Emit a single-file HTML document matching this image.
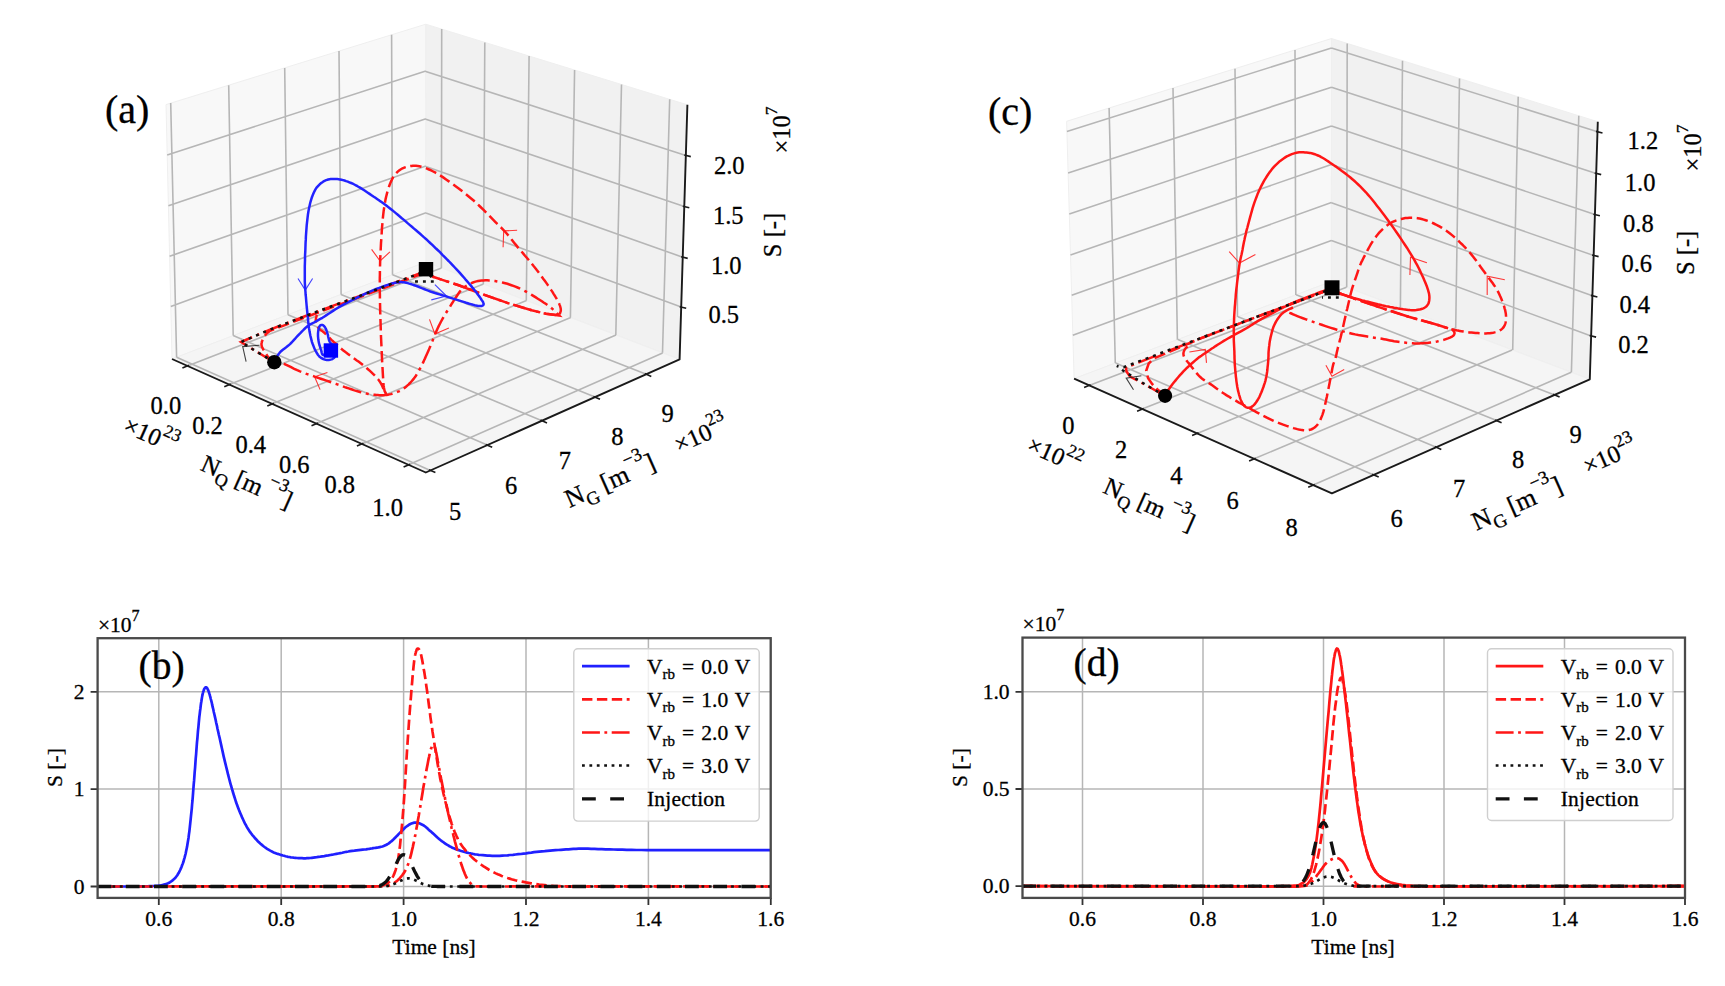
<!DOCTYPE html>
<html><head><meta charset="utf-8"><title>figure</title>
<style>html,body{margin:0;padding:0;background:#fff}svg{display:block}text{font-family:"Liberation Serif", "DejaVu Serif", serif;stroke:#000;stroke-width:0.3px}</style>
</head><body>
<svg width="1725" height="986" viewBox="0 0 1725 986">
<rect width="1725" height="986" fill="#fff"/>
<polygon points="172,359 426,262 425.8,24.2 166,104.6" fill="#f8f8f8" stroke="#efefef" stroke-width="1"/>
<polygon points="426,262 679.6,359.4 687.4,104.8 425.8,24.2" fill="#f1f1f1" stroke="#efefef" stroke-width="1"/>
<polygon points="172,359 425.8,472.5 679.6,359.4 426,262" fill="#f5f5f5" stroke="#efefef" stroke-width="1"/>
<path d="M187.4 365.9L441.5 267.9M441.4 267.9L441.7 29.1M229.3 384.6L483.5 284.1M483.3 284L484.8 42.4M272.3 403.8L526.5 300.6M526.3 300.5L529.1 56M316.5 423.6L570.7 317.6M570.4 317.5L574.6 70.1M361.9 443.9L616 335M615.8 334.9L621.5 84.5M408.6 464.8L662.6 352.9M662.5 352.8L669.7 99.3M176.6 357.2L430.4 470.4M176.6 357.2L170.7 103.1M233.2 335.6L487.2 445.1M233.2 335.6L228.7 85.2M287.9 314.7L542 420.7M288 314.7L284.7 67.9M341 294.4L595 397.1M341.1 294.4L339 51.1M392.5 274.8L646.3 374.2M392.5 274.8L391.6 34.8M170.8 306.4L426 212.8M426 213.1L681.2 307.1M169.6 256.3L425.9 165.9M425.9 166.4L682.7 257.2M168.4 205.8L425.9 118.7M425.9 119.2L684.3 206.6M167.2 154.9L425.8 71.1M425.8 71.4L685.8 155.4" fill="none" stroke="#b6b6b6" stroke-width="1.6"/>
<path d="M274.3 362.2 L258 352.5 L241 342 L270 329.6 L306.9 315.5 L360 295.8 L419 273.7 L426 269.2" fill="none" stroke="#ff1616" stroke-width="2.5" stroke-dasharray="19.3 4.7 3 4.7"/>
<path d="M426 269.2 L433.1 276.8 L458.7 285.3 L483 294.4 L507.3 302.9 L531.7 310.3 L546 313.8 L559.2 315.5 L557.7 314 L556.2 312.6 L554.7 311.1 L553.2 309.7 L551.6 308.2 L549.9 306.8 L548 305.4 L546.1 304 L544 302.7 L541.9 301.3 L539.9 300 L537.8 298.7 L535.8 297.4 L533.7 296.1 L531.7 294.9 L529.7 293.7 L527.6 292.5 L525.6 291.4 L523.6 290.4 L521.5 289.4 L519.5 288.4 L517.5 287.5 L515.4 286.7 L513.4 285.9 L511.4 285.2 L509.4 284.5 L507.4 283.8 L505.3 283.2 L503.3 282.7 L501.3 282.2 L499.3 281.8 L497.2 281.4 L495.1 281 L493.1 280.8 L491.1 280.5 L489.1 280.4 L487.2 280.3 L485.3 280.3 L483.4 280.4 L481.6 280.5 L479.8 280.7 L478.1 281 L476.4 281.4 L474.7 281.9 L473 282.5 L471.4 283.2 L469.9 283.9 L468.4 284.7 L467 285.5 L465.7 286.3 L464.5 287.1 L463.4 288.1 L462.2 289.1 L461.1 290.2 L460 291.4 L459 292.8 L458 294.2 L457 295.7 L456 297.2 L455 298.7 L454 300.2 L453 301.8 L451.9 303.5 L450.9 305.1 L449.9 306.8 L448.9 308.4 L447.9 310 L446.9 311.5 L445.9 313.1 L444.9 314.7 L443.9 316.3 L442.9 318.1 L441.9 320 L440.8 322 L439.8 324 L438.7 326.1 L437.7 328.2 L436.8 330.3 L435.9 332.3 L435.1 334.4 L434.3 336.4 L433.5 338.4 L432.7 340.4 L431.9 342.5 L431 344.6 L430.1 346.7 L429.2 348.9 L428.3 351 L427.4 353 L426.5 355 L425.7 356.8 L424.9 358.6 L424.1 360.2 L423.4 361.9 L422.6 363.6 L421.7 365.3 L420.8 367.1 L419.8 369 L418.7 370.9 L417.7 372.8 L416.6 374.6 L415.6 376.2 L414.6 377.6 L413.6 378.9 L412.6 380.1 L411.6 381.3 L410.6 382.4 L409.5 383.5 L408.4 384.6 L407.2 385.7 L406 386.8 L404.8 387.8 L403.5 388.7 L402.2 389.6 L400.9 390.4 L399.5 391.1 L398 391.7 L396.6 392.3 L395.1 392.8 L393.7 393.3 L392.3 393.7 L390.8 394.1 L389.4 394.4 L387.9 394.7 L386.5 394.9 L385.2 395.1 L383.9 395.2 L382.8 395.3 L381.6 395.3 L380.5 395.3 L379.2 395.2 L377.9 395.1 L376.4 395 L374.8 394.8 L373.1 394.6 L371.5 394.4 L369.8 394.2 L368.1 393.9 L366.5 393.6 L364.9 393.2 L363.2 392.8 L361.6 392.4 L360 392 L358.4 391.5 L356.8 391 L355.3 390.6 L353.7 390.1 L352.1 389.5 L350.5 389 L348.7 388.4 L346.8 387.8 L344.8 387.1 L342.8 386.3 L340.7 385.6 L338.6 384.8 L336.5 384.1 L334.5 383.4 L332.4 382.7 L330.3 382 L328.3 381.3 L326.3 380.6 L324.3 379.9 L322.4 379.3 L320.7 378.7 L318.9 378.1 L317.2 377.5 L315.3 376.9 L313.4 376.2 L311.4 375.5 L309.3 374.8 L307.2 374.1 L304.9 373.3 L302.6 372.4 L300 371.4 L297.2 370.2 L294.2 368.8 L291.1 367.2 L287.9 365.7 L284.6 364.1 L281.5 362.6 L274.3 362.2" fill="none" stroke="#ff1616" stroke-width="2.5" stroke-dasharray="19.3 4.7 3 4.7"/>
<path d="M426 269.2 L433.1 276.8 L458.7 285.3 L483 294.4 L507.3 302.9 L531.7 310.3 L546 313.8 L559.2 315.5 L559.5 314.5 L559.9 313.6 L560.2 312.6 L560.6 311.7 L560.8 310.7 L560.8 309.6 L560.7 308.5 L560.4 307.3 L560.1 306.1 L559.6 304.9 L559.1 303.6 L558.5 302.3 L557.9 301 L557.1 299.6 L556.4 298.3 L555.5 296.9 L554.6 295.4 L553.6 293.8 L552.6 292.1 L551.4 290.4 L550.2 288.6 L549 286.8 L547.7 284.9 L546.3 282.9 L544.8 280.8 L543.2 278.7 L541.6 276.4 L539.9 274.2 L538.3 271.9 L536.6 269.8 L535 267.7 L533.4 265.8 L531.8 263.8 L530.2 261.8 L528.5 259.8 L526.8 257.8 L525 255.7 L523.3 253.6 L521.4 251.4 L519.6 249.3 L517.7 247.1 L515.9 244.9 L514.1 242.7 L512.2 240.3 L510.3 238 L508.5 235.7 L506.7 233.5 L504.9 231.5 L503.3 229.8 L501.9 228.3 L500.5 227 L499 225.5 L497.3 223.9 L495.2 221.8 L492.6 219.2 L489.7 216.2 L486.6 213 L483.3 209.7 L480 206.5 L476.9 203.5 L473.9 200.8 L470.8 198.2 L467.8 195.7 L464.8 193.2 L461.7 190.8 L458.7 188.5 L455.6 186.2 L452.4 183.8 L449.2 181.6 L446.1 179.4 L443.2 177.4 L440.4 175.6 L437.9 174 L435.5 172.7 L433.2 171.5 L431.1 170.4 L429 169.5 L427 168.6 L425 167.8 L423.1 167.2 L421.2 166.7 L419.4 166.3 L417.7 166 L416 165.8 L414.4 165.7 L412.9 165.7 L411.5 165.9 L410.2 166.1 L408.8 166.4 L407.5 166.7 L406.2 167 L404.9 167.4 L403.7 167.9 L402.5 168.4 L401.3 169 L400.2 169.7 L399.1 170.5 L398 171.4 L397 172.4 L395.9 173.5 L395 174.6 L394.1 175.8 L393.3 177 L392.5 178.3 L391.9 179.7 L391.2 181.1 L390.5 182.6 L389.9 184.3 L389.2 186 L388.6 187.9 L388 189.8 L387.4 191.8 L386.8 194.1 L386.2 196.5 L385.6 199.1 L385.1 201.9 L384.6 204.9 L384.1 208 L383.6 211.3 L383.2 214.8 L382.8 218.5 L382.5 222.5 L382.1 226.6 L381.8 230.8 L381.6 235 L381.3 239.1 L381 243.2 L380.8 247.3 L380.6 251.4 L380.4 255.5 L380.2 259.5 L380.1 263.4 L380 267.2 L379.9 270.8 L379.9 274.4 L379.8 277.9 L379.8 281.4 L379.8 285 L379.8 288.4 L379.8 291.6 L379.9 294.8 L379.9 298.2 L380 302 L380.1 306.5 L380.2 311.7 L380.4 317.6 L380.6 323.8 L380.8 330.3 L381 336.7 L381.3 343 L381.6 349.4 L381.9 356.1 L382.2 362.9 L382.6 369.3 L382.9 374.9 L383.2 379.5 L383.4 382.8 L383.6 385.2 L383.8 386.8 L384 388 L384.2 389 L384.4 390 L384.6 391 L384.9 391.6 L385.1 392.1 L385.3 392.5 L385.6 392.8 L385.8 393.3 L385.2 393.3 L384.4 391.4 L383.7 389.5 L382.9 387.6 L382.1 385.8 L381.3 384 L380.3 382.3 L379.2 380.7 L378.1 379.3 L376.9 377.9 L375.7 376.5 L374.4 375.2 L373 373.8 L371.5 372.4 L369.9 370.9 L368.3 369.5 L366.6 368 L365 366.6 L363.3 365.3 L361.7 364 L360.1 362.8 L358.5 361.6 L356.8 360.4 L355.2 359.2 L353.5 358 L351.7 356.7 L349.8 355.3 L347.9 353.9 L346.1 352.6 L344.4 351.3 L343 350.2 L341.9 349.3 L341 348.6 L340.3 347.9 L339.7 347.3 L339 346.7 L338.1 345.9 L337.1 345 L336 344 L334.9 343 L333.7 342 L332.6 340.9 L331.4 339.8 L330.2 338.6 L328.9 337.3 L327.6 336 L326.4 334.7 L325.2 333.5 L324.1 332.5 L323.1 331.7 L322.2 331.1 L321.4 330.5 L320.6 330.1 L319.9 329.5 L319.2 328.9 L318.6 328.2 L318 327.4 L317.4 326.5 L316.9 325.7 L316.5 324.8 L316.2 324 L316 323.2 L315.9 322.3 L315.8 321.5 L315.8 320.7 L315.8 319.9 L315.9 319.1 L316 318.4 L316.1 317.6 L316.3 317 L316.5 316.3 L316.6 315.6 L316.8 314.9" fill="none" stroke="#ff1616" stroke-width="2.5" stroke-dasharray="11.4 4.6"/>
<path d="M274.3 362.2 L268 357 L263.5 350 L263.1 349.2 L262.7 348.3 L262.3 347.5 L261.9 346.7 L261.7 345.8 L261.5 345 L261.5 344.2 L261.5 343.4 L261.7 342.6 L261.9 341.7 L262.2 340.9 L262.5 340 L262.9 339.1 L263.5 338.1 L264.1 337.1 L264.7 336 L265.4 335 L266 334 L270 330.8 L306.9 316.7 L360 297 L419 274.9 L426 269.2" fill="none" stroke="#ff1616" stroke-width="2.5" stroke-dasharray="11.4 4.6"/>
<path d="M274.3 362.2 L275.1 360.6 L275.9 359 L276.7 357.4 L277.5 355.8 L278.5 354.2 L279.7 352.7 L281.1 351.2 L282.8 349.8 L284.6 348.4 L286.5 347 L288.3 345.6 L290 344.1 L291.6 342.5 L293.1 340.9 L294.7 339.2 L296.1 337.5 L297.6 335.9 L299.1 334.3 L300.6 332.8 L302 331.3 L303.5 329.9 L304.9 328.5 L306.3 327.2 L307.7 326.1 L309.1 325.1 L310.4 324.3 L311.7 323.6 L312.9 323 L314.3 322.3 L315.6 321.6 L316.9 320.9 L318.2 320.1 L319.5 319.4 L320.8 318.7 L322.4 317.8 L324.1 316.7 L326.1 315.4 L328.2 314 L330.6 312.5 L333 310.9 L335.5 309.3 L338.1 307.7 L340.8 306.2 L343.5 304.7 L346.4 303.1 L349.3 301.6 L352.3 300.1 L355.2 298.6 L358.2 297.1 L361.3 295.6 L364.4 294.1 L367.5 292.7 L370.5 291.3 L373.4 290.1 L376.2 288.9 L379.1 287.9 L381.8 286.9 L384.5 285.9 L386.9 285.1 L389.2 284.4 L391.2 283.8 L393 283.3 L394.6 282.9 L396.1 282.6 L397.6 282.4 L399 282.2 L400.3 282.1 L401.5 282.1 L402.7 282.2 L403.8 282.3 L405 282.5 L406.3 282.8 L407.7 283.1 L409.3 283.6 L410.8 284 L412.5 284.6 L414.2 285.2 L416 285.8 L417.9 286.5 L419.8 287.3 L421.9 288.2 L424 289 L426.1 289.9 L428.2 290.7 L430.4 291.5 L432.7 292.2 L435.1 293 L437.4 293.7 L439.6 294.4 L441.6 295 L443.4 295.6 L445.1 296.1 L446.7 296.6 L448.3 297.1 L449.8 297.6 L451.4 298.1 L453 298.6 L454.6 299.1 L456.3 299.6 L457.9 300.1 L459.5 300.6 L461.1 301.1 L462.7 301.6 L464.4 302.1 L466.1 302.7 L467.7 303.2 L469.3 303.7 L470.8 304.1 L472.2 304.5 L473.5 304.9 L474.8 305.3 L476 305.6 L477.1 305.8 L478.1 306 L479 306.1 L479.9 306.1 L480.6 306.1 L481.3 306 L481.9 305.9 L482.4 305.7 L482.8 305.5 L483.2 305.2 L483.4 304.8 L483.6 304.5 L483.6 304 L483.6 303.5 L483.4 303 L483.2 302.4 L482.8 301.7 L482.4 301 L481.8 300.2 L481.2 299.3 L480.5 298.2 L479.7 297 L478.8 295.7 L477.8 294.4 L476.8 293 L475.7 291.6 L474.6 290.2 L473.5 288.8 L472.3 287.4 L471.1 285.9 L469.8 284.4 L468.4 282.8 L467 281.1 L465.4 279.3 L463.9 277.5 L462.2 275.6 L460.5 273.7 L458.7 271.7 L456.8 269.7 L454.8 267.5 L452.8 265.4 L450.7 263.2 L448.6 261 L446.5 258.9 L444.5 256.8 L442.4 254.8 L440.4 252.7 L438.4 250.7 L436.3 248.8 L434.3 246.8 L432.3 244.9 L430.2 243 L428.2 241.1 L426.2 239.2 L424.1 237.4 L422.1 235.6 L420.1 233.8 L418 232 L416 230.3 L414 228.6 L411.9 226.8 L409.9 225.1 L407.9 223.4 L405.9 221.6 L403.9 219.9 L401.8 218.2 L399.8 216.5 L397.8 214.8 L395.8 213.1 L393.7 211.4 L391.7 209.8 L389.7 208.2 L387.6 206.6 L385.6 205 L383.6 203.5 L381.5 202 L379.4 200.6 L377.4 199.2 L375.4 197.8 L373.4 196.5 L371.5 195.2 L369.6 193.9 L367.8 192.7 L366 191.5 L364.2 190.3 L362.5 189.2 L360.8 188.2 L359.1 187.2 L357.5 186.2 L355.9 185.3 L354.3 184.5 L352.7 183.7 L351.1 183 L349.4 182.3 L347.8 181.6 L346.1 181.1 L344.5 180.5 L343 180.1 L341.5 179.7 L340 179.4 L338.6 179.2 L337.2 179.1 L335.8 179 L334.5 178.9 L333.2 178.9 L331.9 179 L330.7 179.1 L329.5 179.2 L328.3 179.5 L327.2 179.8 L326.1 180.2 L325.1 180.6 L324 181.1 L323 181.7 L322.1 182.4 L321.1 183.1 L320.1 183.9 L319.2 184.8 L318.2 185.8 L317.3 186.8 L316.4 187.9 L315.6 189.2 L314.8 190.6 L314.1 192 L313.4 193.6 L312.7 195.3 L312 197 L311.4 198.9 L310.8 200.9 L310.2 203 L309.7 205.2 L309.2 207.5 L308.7 209.9 L308.3 212.3 L307.9 214.8 L307.6 217.3 L307.3 220 L307 222.6 L306.7 225.4 L306.5 228.1 L306.3 230.9 L306.1 233.7 L305.9 236.5 L305.8 239.4 L305.6 242.3 L305.5 245.2 L305.4 248.2 L305.3 251.2 L305.1 254.3 L305 257.4 L305 260.4 L304.9 263.4 L304.8 266.3 L304.8 269.3 L304.8 272.2 L304.8 275 L304.8 277.6 L304.8 280 L304.8 282 L304.9 283.7 L305 285.2 L305.1 286.6 L305.2 288.2 L305.3 290 L305.5 292.1 L305.6 294.5 L305.9 296.9 L306.1 299.4 L306.3 301.8 L306.5 304.1 L306.7 306.3 L306.9 308.4 L307.1 310.4 L307.3 312.4 L307.5 314.3 L307.7 316.1 L307.9 317.8 L308 319.3 L308.1 320.8 L308.3 322.3 L308.4 323.7 L308.6 325.2 L308.8 326.7 L309 328.2 L309.3 329.7 L309.5 331.3 L309.8 332.8 L310.1 334.3 L310.4 335.8 L310.8 337.4 L311.2 339 L311.6 340.6 L312 342.1 L312.5 343.5 L313 344.8 L313.5 346.1 L314 347.4 L314.5 348.6 L315 349.7 L315.6 350.8 L316.2 351.8 L316.7 352.9 L317.3 353.8 L317.9 354.7 L318.5 355.5 L319.2 356.3 L319.9 357 L320.7 357.6 L321.6 358.1 L322.4 358.6 L323.3 359 L324.1 359.3 L324.9 359.6 L325.7 359.8 L326.6 359.9 L327.4 360 L328.2 360 L329 359.9 L329.8 359.8 L330.7 359.6 L331.6 359.4 L332.4 359.1 L333.1 358.6 L333.8 358.1 L334.4 357.4 L335 356.6 L335.5 355.6 L335.9 354.6 L336.2 353.6 L336.3 352.6 L336.2 351.6 L335.9 350.6 L335.5 349.5 L334.9 348.5 L334.4 347.5 L333.8 346.5 L333.2 345.6 L332.4 344.9 L331.7 344.1 L330.9 343.4 L330.2 342.5 L329.6 341.6 L329.1 340.5 L328.8 339.3 L328.5 338 L328.2 336.7 L328 335.4 L327.7 334.3 L327.4 333.3 L327.1 332.3 L326.8 331.3 L326.5 330.5 L326.2 329.6 L325.9 328.9 L325.6 328.2 L325.2 327.6 L324.9 327.1 L324.5 326.6 L324.2 326.2 L323.8 325.8 L323.4 325.5 L323.1 325.2 L322.7 325.1 L322.3 324.9 L322 324.9 L321.6 324.9 L321.2 325 L320.9 325.1 L320.5 325.3 L320.1 325.6 L319.8 326 L319.5 326.4 L319.2 326.9 L319 327.6 L318.8 328.3 L318.6 329.1 L318.4 329.9 L318.3 330.7 L318.2 331.5 L318.1 332.4 L318 333.3 L318 334.2 L318 335.2 L318 336.2 L318.1 337.2 L318.2 338.3 L318.3 339.5 L318.5 340.6 L318.7 341.8 L318.9 342.9 L319.2 344 L319.5 345.2 L319.9 346.3 L320.2 347.5 L320.6 348.6 L321 349.6 L321.3 350.7 L321.5 351.9 L321.8 353 L322.1 354 L322.5 354.7 L323.2 355 L324.2 354.8 L325.4 354.2 L326.7 353.4 L328.1 352.4 L329.6 351.4 L330.9 350.5" fill="none" stroke="#2222ff" stroke-width="2.5" stroke-linejoin="round"/>
<path d="M274.3 362.2 L258 352.5 L241 342 L270 329.6 L306.9 315.5 L360 295.8 L419 273.7 L426 269.2 L434 281.4 L410 281.4" fill="none" stroke="#111" stroke-width="2.5" stroke-dasharray="2.9 5"/>
<path d="M298 278.5L305.3 290.1L312.6 278.5" fill="none" stroke="#2222ff" stroke-width="1.1" stroke-opacity="0.85"/>
<path d="M434.9 284.7L446.5 296L431.3 299.9" fill="none" stroke="#2222ff" stroke-width="1.1" stroke-opacity="0.85"/>
<path d="M371.6 249.4L380.1 261L389.9 251.9" fill="none" stroke="#ff1616" stroke-width="1.1" stroke-opacity="0.85"/>
<path d="M517.1 230.3L503.7 230.9L503.1 247.3" fill="none" stroke="#ff1616" stroke-width="1.1" stroke-opacity="0.85"/>
<path d="M429.5 319.4L434.9 334L448.9 327.9" fill="none" stroke="#ff1616" stroke-width="1.1" stroke-opacity="0.85"/>
<path d="M327.4 372.6L314.6 376.8L320.1 389.6" fill="none" stroke="#ff1616" stroke-width="1.1" stroke-opacity="0.85"/>
<path d="M246.1 361.7L242.7 346.6L259.5 345.2" fill="none" stroke="#222" stroke-width="1.1" stroke-opacity="0.85"/>
<rect x="323.7" y="343.3" width="14.4" height="14.4" fill="#0000ff"/>
<rect x="418.8" y="262" width="14.4" height="14.4" fill="#000"/>
<circle cx="274.3" cy="362.2" r="7.2" fill="#000"/>
<path d="M172 359L425.8 472.5L679.6 359.4L687.4 104.8" fill="none" stroke="#1a1a1a" stroke-width="1.9" stroke-linejoin="round"/>
<path d="M188.9 365.3L182.4 368.1M230.8 384L224.3 386.8M273.8 403.2L267.3 406M318 423L311.5 425.8M363.4 443.3L356.9 446.1M410.1 464.2L403.6 467M428.9 469.8L435.4 472.6M485.7 444.5L492.2 447.3M540.5 420.1L547 422.9M593.5 396.5L600 399.3M644.8 373.6L651.3 376.4M679.7 306.7L686.2 308.3M681.2 256.8L687.7 258.4M682.8 206.2L689.3 207.8M684.3 155L690.8 156.6" fill="none" stroke="#1a1a1a" stroke-width="1.6"/>
<text x="105" y="123" font-size="40" text-anchor="start" fill="#000" stroke-width="0.7">(a)</text>
<text x="165.9" y="414.1" font-size="24.5" text-anchor="middle" fill="#000">0.0</text>
<text x="207.5" y="433.5" font-size="24.5" text-anchor="middle" fill="#000">0.2</text>
<text x="250.7" y="452.9" font-size="24.5" text-anchor="middle" fill="#000">0.4</text>
<text x="294.3" y="472.7" font-size="24.5" text-anchor="middle" fill="#000">0.6</text>
<text x="339.8" y="493.4" font-size="24.5" text-anchor="middle" fill="#000">0.8</text>
<text x="387.6" y="515.5" font-size="24.5" text-anchor="middle" fill="#000">1.0</text>
<text x="455" y="520.1" font-size="24.5" text-anchor="middle" fill="#000">5</text>
<text x="511" y="494" font-size="24.5" text-anchor="middle" fill="#000">6</text>
<text x="564.8" y="469" font-size="24.5" text-anchor="middle" fill="#000">7</text>
<text x="617.4" y="445" font-size="24.5" text-anchor="middle" fill="#000">8</text>
<text x="667.5" y="422" font-size="24.5" text-anchor="middle" fill="#000">9</text>
<text x="729.2" y="174.2" font-size="24.5" text-anchor="middle" fill="#000">2.0</text>
<text x="728.3" y="224.2" font-size="24.5" text-anchor="middle" fill="#000">1.5</text>
<text x="726.2" y="273.8" font-size="24.5" text-anchor="middle" fill="#000">1.0</text>
<text x="723.7" y="323" font-size="24.5" text-anchor="middle" fill="#000">0.5</text>
<text x="147.5" y="442.5" font-size="24.5" text-anchor="middle" transform="rotate(24 147.5 442.5)">×10<tspan dy="-12.7" font-size="17.6">23</tspan></text>
<text x="704.4" y="442" font-size="24.5" text-anchor="middle" transform="rotate(-24 704.4 442)">×10<tspan dy="-12.7" font-size="17.6">23</tspan></text>
<text x="243.5" y="489.5" font-size="25" text-anchor="middle" transform="rotate(24 243.5 489.5)">N<tspan dy="6.5" font-size="18">Q</tspan><tspan dy="-6.5"> [m</tspan><tspan dy="-14.5" font-size="18"> −3</tspan><tspan dy="14.5">]</tspan></text>
<text x="613.5" y="488.4" font-size="26" text-anchor="middle" transform="rotate(-24 613.5 488.4)">N<tspan dy="6.8" font-size="18.7">G</tspan><tspan dy="-6.8"> [m</tspan><tspan dy="-15.1" font-size="18.7">−3</tspan><tspan dy="15.1">]</tspan></text>
<text x="781" y="235" font-size="24.5" text-anchor="middle" fill="#000" transform="rotate(-90 781 235)">S [-]</text>
<text x="790" y="130" font-size="24.5" text-anchor="middle" transform="rotate(-90 790 130)">×10<tspan dy="-12.7" font-size="17.6">7</tspan></text>
<polygon points="1074.1,378.7 1331.4,281.5 1331.5,38.5 1066.6,121.3" fill="#f8f8f8" stroke="#efefef" stroke-width="1"/>
<polygon points="1331.4,281.5 1589.8,379.3 1597.8,121.7 1331.5,38.5" fill="#f1f1f1" stroke="#efefef" stroke-width="1"/>
<polygon points="1074.1,378.7 1331.9,493.4 1589.8,379.3 1331.4,281.5" fill="#f5f5f5" stroke="#efefef" stroke-width="1"/>
<path d="M1089.1 385.4L1346.5 287.2M1346.7 287.3L1347.2 43.4M1142.1 409L1399.9 307.4M1400.4 307.6L1402.5 60.7M1197.1 433.4L1455.1 328.3M1455.7 328.6L1459.5 78.5M1254.1 458.8L1512.1 349.9M1512.7 350.1L1518.2 96.8M1313.2 485.1L1571.2 372.3M1571.4 372.3L1578.8 115.8M1115.6 363L1373.7 474.9M1115.3 363.1L1109.1 108M1177.9 339.5L1436.3 447.2M1177.4 339.7L1173 88M1238 316.8L1496.6 420.5M1237.5 317L1235 68.7M1296.1 294.8L1554.6 394.9M1295.8 294.9L1295 49.9M1072.8 335.3L1331.4 240.4M1331.4 240.5L1591.1 335.9M1071.7 295.3L1331.4 202.6M1331.4 202.7L1592.4 295.8M1070.5 254.9L1331.4 164.5M1331.4 164.5L1593.6 255.4M1069.3 214.1L1331.5 126M1331.5 126L1594.9 214.6M1068.1 172.9L1331.5 87.2M1331.5 87.2L1596.2 173.4M1066.9 131.4L1331.5 48M1331.5 48L1597.5 131.8" fill="none" stroke="#b6b6b6" stroke-width="1.6"/>
<path d="M1165.1 395.8 L1152 388.5 L1130 376.5 L1126.5 371.5 L1126 367.5 L1200 338.6 L1270 311.9 L1325.3 291.1 L1332 287.8" fill="none" stroke="#ff1616" stroke-width="2.5" stroke-dasharray="19.3 4.7 3 4.7"/>
<path d="M1332 287.8 L1339.9 293.5 L1360 300.6 L1384.3 308.9 L1408.7 316.8 L1433 323.5 L1452.5 329.6 L1452.9 330.2 L1453.3 330.7 L1453.8 331.3 L1454.1 331.9 L1454.4 332.4 L1454.5 333 L1454.5 333.6 L1454.3 334.1 L1454.1 334.7 L1453.7 335.2 L1453.2 335.8 L1452.5 336.3 L1451.6 336.8 L1450.6 337.4 L1449.3 337.9 L1448 338.4 L1446.6 338.9 L1445.2 339.4 L1443.7 339.9 L1442.1 340.3 L1440.5 340.7 L1438.8 341.1 L1437.1 341.5 L1435.4 341.8 L1433.8 342.1 L1432.2 342.3 L1430.5 342.5 L1428.9 342.7 L1427.3 342.9 L1425.7 343 L1424.1 343.1 L1422.5 343.2 L1420.9 343.3 L1419.2 343.4 L1417.6 343.4 L1416 343.4 L1414.4 343.4 L1412.8 343.3 L1411.2 343.2 L1409.6 343.1 L1408 343 L1406.2 342.8 L1404.3 342.6 L1402.3 342.4 L1400.3 342.1 L1398.2 341.8 L1396.1 341.5 L1394.1 341.2 L1392.1 340.8 L1390 340.4 L1388 340 L1385.9 339.6 L1383.9 339.2 L1381.9 338.8 L1380 338.5 L1378.1 338.2 L1376.3 338 L1374.4 337.7 L1372.3 337.4 L1370 337 L1367.4 336.6 L1364.5 336.1 L1361.4 335.5 L1358.3 335 L1355.2 334.4 L1352.1 333.7 L1349.1 333 L1346.1 332.2 L1343 331.4 L1340 330.6 L1336.9 329.7 L1333.9 328.8 L1330.9 327.9 L1327.8 326.9 L1324.8 325.9 L1321.7 324.8 L1318.7 323.8 L1315.6 322.7 L1312.5 321.6 L1309.2 320.5 L1306 319.3 L1302.9 318.2 L1299.9 317.1 L1297.3 316.1 L1295.1 315.2 L1293.1 314.3 L1291.4 313.5 L1289.8 312.8 L1288.1 312 L1286.4 311.2" fill="none" stroke="#ff1616" stroke-width="2.5" stroke-dasharray="19.3 4.7 3 4.7"/>
<path d="M1165.1 395.8 L1158.4 390.3 L1152.3 384.2 L1148.1 378.1 L1146.2 370.8 L1148.7 363.5 L1153.5 358.7 L1200 338.6 L1270 311.9 L1325.3 291.1 L1332 287.8" fill="none" stroke="#ff1616" stroke-width="2.5" stroke-dasharray="11.4 4.6"/>
<path d="M1332 287.8 L1339.9 293.5 L1360 300.6 L1384.3 308.9 L1408.7 316.8 L1433 323.5 L1452.5 329.6 L1454.3 329.9 L1456.1 330.2 L1457.9 330.6 L1459.7 330.9 L1461.5 331.2 L1463.4 331.5 L1465.4 331.8 L1467.4 332.1 L1469.4 332.4 L1471.5 332.6 L1473.6 332.8 L1475.6 333 L1477.7 333.1 L1479.8 333.3 L1481.9 333.4 L1483.9 333.4 L1485.9 333.4 L1487.8 333.3 L1489.6 333.2 L1491.4 332.9 L1493 332.7 L1494.6 332.4 L1496.1 332 L1497.5 331.5 L1498.8 331 L1499.9 330.4 L1501 329.7 L1502 328.9 L1502.8 328.1 L1503.6 327.2 L1504.2 326.2 L1504.8 325 L1505.2 323.8 L1505.6 322.5 L1505.8 321.2 L1506 319.9 L1506.1 318.6 L1506.1 317.2 L1506 315.8 L1505.9 314.4 L1505.7 312.9 L1505.4 311.4 L1505.1 309.9 L1504.6 308.3 L1504.2 306.6 L1503.6 305 L1503 303.3 L1502.4 301.6 L1501.7 299.8 L1501 298 L1500.1 296.1 L1499.3 294.2 L1498.4 292.4 L1497.5 290.7 L1496.6 289.1 L1495.6 287.6 L1494.7 286.1 L1493.7 284.7 L1492.6 283.1 L1491.4 281.5 L1490.1 279.7 L1488.8 277.9 L1487.4 276 L1485.9 274.1 L1484.4 272 L1482.9 270 L1481.4 267.9 L1479.8 265.7 L1478.2 263.4 L1476.6 261.1 L1474.9 258.9 L1473.2 256.7 L1471.5 254.6 L1469.7 252.5 L1467.9 250.5 L1466 248.4 L1464.1 246.5 L1462.2 244.5 L1460.2 242.6 L1458.2 240.6 L1456.2 238.7 L1454.1 236.9 L1452 235.1 L1450 233.5 L1448 232 L1446 230.5 L1443.9 229.2 L1441.9 227.9 L1439.9 226.7 L1437.9 225.6 L1435.9 224.5 L1433.8 223.5 L1431.8 222.6 L1429.8 221.7 L1427.7 220.9 L1425.7 220.2 L1423.7 219.6 L1421.6 219 L1419.6 218.5 L1417.6 218.2 L1415.5 217.9 L1413.5 217.7 L1411.5 217.7 L1409.4 217.7 L1407.4 217.9 L1405.3 218.1 L1403.4 218.5 L1401.4 218.9 L1399.5 219.4 L1397.6 220 L1395.8 220.6 L1393.9 221.4 L1392.1 222.2 L1390.4 223.2 L1388.7 224.3 L1387 225.5 L1385.4 226.7 L1383.8 228.1 L1382.2 229.6 L1380.7 231.1 L1379.2 232.7 L1377.7 234.5 L1376.3 236.3 L1374.9 238.1 L1373.5 240.1 L1372.2 242.1 L1370.9 244.2 L1369.6 246.5 L1368.3 248.8 L1367.1 251.1 L1366 253.4 L1364.9 255.4 L1363.9 257.2 L1363 259 L1362.2 260.6 L1361.4 262.1 L1360.7 263.7 L1360 265.2 L1359.4 266.7 L1358.9 268 L1358.5 269.3 L1358.1 270.7 L1357.6 272.3 L1357 274.1 L1356.3 276.2 L1355.5 278.5 L1354.6 281 L1353.7 283.6 L1352.9 286.2 L1352.1 288.7 L1351.4 291.1 L1350.8 293.5 L1350.2 295.9 L1349.7 298.3 L1349.1 300.8 L1348.5 303.3 L1347.9 305.9 L1347.3 308.5 L1346.6 311.1 L1346 313.8 L1345.4 316.5 L1344.8 319.1 L1344.2 321.7 L1343.6 324.4 L1343 327.1 L1342.4 329.7 L1341.8 332.3 L1341.2 334.9 L1340.6 337.5 L1339.9 340 L1339.3 342.5 L1338.6 345 L1338 347.3 L1337.5 349.5 L1337 351.6 L1336.6 353.5 L1336.2 355.4 L1335.8 357.1 L1335.5 358.6 L1335.1 360 L1334.8 361 L1334.4 361.7 L1334.1 362.2 L1333.9 362.7 L1333.5 363.5 L1333.2 364.6 L1332.8 366.2 L1332.4 368.1 L1332 370.2 L1331.6 372.5 L1331.2 374.7 L1330.8 376.8 L1330.4 378.8 L1330 380.8 L1329.6 382.9 L1329.2 384.9 L1328.8 386.9 L1328.4 388.9 L1328 390.9 L1327.6 393 L1327.2 395 L1326.8 397 L1326.3 399.1 L1325.9 401.1 L1325.4 403.2 L1325 405.3 L1324.5 407.4 L1324 409.4 L1323.5 411.4 L1322.9 413.3 L1322.3 415.1 L1321.6 416.9 L1320.9 418.6 L1320.2 420.2 L1319.4 421.7 L1318.6 423 L1317.8 424.2 L1317 425.3 L1316.1 426.2 L1315.2 427.1 L1314.2 427.8 L1313.2 428.5 L1312.1 429 L1311 429.5 L1309.8 429.8 L1308.5 430.1 L1307.2 430.2 L1305.9 430.3 L1304.6 430.3 L1303.3 430.2 L1301.9 430 L1300.5 429.8 L1299 429.5 L1297.3 429.1 L1295.5 428.6 L1293.5 428.1 L1291.5 427.5 L1289.4 426.8 L1287.3 426.1 L1285.2 425.4 L1283.2 424.7 L1281.1 423.9 L1279.1 423.1 L1277.1 422.3 L1275 421.5 L1273 420.6 L1271 419.7 L1268.9 418.7 L1266.9 417.7 L1264.9 416.6 L1262.8 415.6 L1260.8 414.5 L1258.8 413.4 L1256.8 412.3 L1254.7 411.2 L1252.7 410.1 L1250.7 408.9 L1248.7 407.8 L1246.7 406.7 L1244.6 405.6 L1242.6 404.5 L1240.6 403.4 L1238.5 402.3 L1236.5 401.1 L1234.5 399.9 L1232.4 398.8 L1230.4 397.6 L1228.4 396.3 L1226.3 395.1 L1224.3 393.8 L1222.3 392.5 L1220.3 391.1 L1218.2 389.6 L1216.2 388.2 L1214.2 386.7 L1212.2 385.3 L1210.1 383.9 L1208.1 382.6 L1206 381.3 L1203.9 379.9 L1201.9 378.4 L1200 376.8 L1198.1 374.9 L1196.3 372.8 L1194.5 370.6 L1192.9 368.5 L1191.3 366.5 L1190 364.8 L1188.9 363.4 L1187.9 362.3 L1187.1 361.3 L1186.4 360.4 L1185.8 359.6 L1185.2 358.7 L1184.7 357.8 L1184.2 357 L1183.9 356.2 L1183.6 355.4 L1183.5 354.6 L1183.4 353.8 L1183.5 353 L1183.6 352.2 L1183.9 351.3 L1184.2 350.5 L1184.7 349.7 L1185.2 348.9 L1185.8 348.1 L1186.6 347.3 L1187.4 346.5 L1188.3 345.7 L1189.2 344.9 L1190 344.1" fill="none" stroke="#ff1616" stroke-width="2.5" stroke-dasharray="11.4 4.6"/>
<path d="M1165.1 395.8 L1165.6 394.9 L1165.9 394.1 L1166.3 393.3 L1166.8 392.4 L1167.4 391.5 L1168.1 390.3 L1169 388.9 L1170.1 387.4 L1171.3 385.8 L1172.6 384.1 L1174 382.3 L1175.4 380.6 L1176.9 378.8 L1178.4 377 L1180 375.2 L1181.7 373.3 L1183.4 371.4 L1185.2 369.6 L1187.1 367.7 L1189.1 365.9 L1191.1 364 L1193.2 362.2 L1195.3 360.4 L1197.3 358.7 L1199.3 357.1 L1201.4 355.7 L1203.4 354.3 L1205.4 352.9 L1207.5 351.6 L1209.5 350.2 L1211.5 348.8 L1213.6 347.5 L1215.6 346.1 L1217.6 344.8 L1219.7 343.5 L1221.7 342.2 L1223.8 340.9 L1225.8 339.7 L1227.9 338.5 L1230 337.3 L1232.1 336.2 L1234.1 335 L1236.1 333.9 L1238 332.9 L1239.9 331.9 L1241.8 330.8 L1243.9 329.7 L1246 328.5 L1248.2 327.2 L1250.4 325.8 L1252.6 324.4 L1255 322.8 L1257.7 321.2 L1260.8 319.4 L1264.4 317.4 L1268.6 315.1 L1273 312.8 L1277.4 310.5 L1281.6 308.3 L1285.2 306.5 L1288.2 305.1 L1290.7 303.9 L1293 302.9 L1295.2 302 L1297.5 301 L1300 300 L1302.9 298.8 L1305.9 297.6 L1309 296.4 L1312.2 295.2 L1315.2 294.1 L1318 293 L1320.6 292 L1323 291.1 L1325.2 290.3 L1327.5 289.5 L1329.7 288.6 L1332 287.8 L1339.9 293.8 L1343.4 294.8 L1347 295.9 L1350.6 297 L1354.1 298.1 L1357.3 299 L1360 299.8 L1362.2 300.4 L1363.9 300.8 L1365.3 301.2 L1366.7 301.5 L1368.1 301.8 L1369.7 302.2 L1371.6 302.7 L1373.6 303.2 L1375.6 303.7 L1377.7 304.3 L1379.8 304.8 L1381.9 305.3 L1383.9 305.7 L1386 306.2 L1388.1 306.6 L1390.1 307 L1392.1 307.3 L1394.1 307.7 L1396 308 L1397.9 308.4 L1399.7 308.7 L1401.5 309 L1403.3 309.3 L1405 309.5 L1406.7 309.7 L1408.4 309.9 L1410 310.1 L1411.7 310.2 L1413.3 310.2 L1414.8 310.2 L1416.3 310.1 L1417.9 309.8 L1419.4 309.6 L1420.8 309.2 L1422.1 308.8 L1423.3 308.3 L1424.4 307.8 L1425.3 307.2 L1426.2 306.5 L1426.9 305.8 L1427.5 305 L1428.1 304.1 L1428.6 303.1 L1428.9 301.9 L1429.2 300.7 L1429.3 299.4 L1429.4 298.1 L1429.4 296.8 L1429.3 295.5 L1429.1 294.1 L1428.8 292.7 L1428.4 291.3 L1428 289.8 L1427.5 288.3 L1427 286.8 L1426.4 285.3 L1425.8 283.8 L1425.2 282.2 L1424.4 280.4 L1423.6 278.6 L1422.7 276.6 L1421.7 274.5 L1420.7 272.2 L1419.6 269.9 L1418.4 267.5 L1417.2 265.2 L1415.9 262.9 L1414.7 260.6 L1413.3 258.2 L1411.9 255.8 L1410.4 253.3 L1408.7 250.6 L1406.9 247.7 L1404.9 244.7 L1402.8 241.6 L1400.7 238.4 L1398.6 235.3 L1396.5 232.3 L1394.5 229.4 L1392.5 226.6 L1390.5 223.8 L1388.5 221 L1386.5 218.2 L1384.3 215.3 L1382 212.3 L1379.6 209.1 L1377.1 205.9 L1374.7 202.7 L1372.3 199.7 L1370 197 L1367.9 194.6 L1365.9 192.3 L1364 190.3 L1362.1 188.3 L1360.2 186.4 L1358.2 184.5 L1356.2 182.6 L1354.2 180.8 L1352.1 179 L1350.1 177.3 L1348 175.6 L1346 174 L1344 172.4 L1341.9 170.9 L1339.9 169.4 L1337.8 168 L1335.9 166.6 L1333.9 165.3 L1332 164 L1330.1 162.7 L1328.2 161.4 L1326.4 160.2 L1324.6 159 L1322.9 158 L1321.2 157.1 L1319.6 156.2 L1318 155.5 L1316.4 154.8 L1314.8 154.2 L1313.2 153.7 L1311.6 153.3 L1309.9 152.9 L1308.2 152.7 L1306.6 152.5 L1305 152.4 L1303.4 152.3 L1301.9 152.3 L1300.5 152.3 L1299.1 152.3 L1297.8 152.5 L1296.4 152.7 L1294.9 153.1 L1293.4 153.6 L1291.8 154.1 L1290.1 154.8 L1288.5 155.6 L1286.8 156.4 L1285.2 157.4 L1283.6 158.5 L1281.9 159.7 L1280.2 160.9 L1278.6 162.3 L1277 163.8 L1275.4 165.3 L1273.9 166.9 L1272.4 168.6 L1271 170.4 L1269.6 172.3 L1268.2 174.2 L1266.9 176.2 L1265.6 178.3 L1264.3 180.4 L1263.1 182.6 L1261.9 184.9 L1260.7 187.2 L1259.6 189.6 L1258.5 192.1 L1257.4 194.6 L1256.4 197.3 L1255.4 199.9 L1254.4 202.7 L1253.5 205.4 L1252.6 208.2 L1251.8 211.1 L1251 214 L1250.2 216.9 L1249.4 219.8 L1248.7 222.5 L1248 225.1 L1247.4 227.5 L1246.7 229.9 L1246.1 232.3 L1245.6 234.7 L1245 237.1 L1244.5 239.6 L1243.9 242.2 L1243.4 244.8 L1242.9 247.4 L1242.5 249.9 L1242 252.2 L1241.6 254.3 L1241.1 256.2 L1240.7 258.1 L1240.3 259.9 L1239.9 262 L1239.5 264.3 L1239.1 267 L1238.7 269.9 L1238.3 273.1 L1237.9 276.3 L1237.5 279.5 L1237.1 282.6 L1236.8 285.6 L1236.4 288.7 L1236.1 291.7 L1235.8 294.7 L1235.6 297.8 L1235.3 300.8 L1235.1 303.8 L1234.8 306.9 L1234.6 310 L1234.4 313 L1234.2 316.1 L1234.1 319.1 L1234 322.2 L1233.9 325.4 L1233.8 328.6 L1233.8 331.6 L1233.8 334.6 L1233.8 337.3 L1233.8 339.7 L1233.9 342 L1234 344 L1234.1 346 L1234.2 348 L1234.3 350 L1234.4 352 L1234.4 354 L1234.5 356 L1234.5 358 L1234.6 360 L1234.7 362.2 L1234.8 364.5 L1235 367 L1235.2 369.5 L1235.4 372 L1235.7 374.5 L1235.9 376.8 L1236.2 379 L1236.4 381.1 L1236.7 383.1 L1237 385 L1237.3 387 L1237.7 388.9 L1238.1 390.9 L1238.6 392.8 L1239.1 394.8 L1239.7 396.6 L1240.2 398.4 L1240.8 399.9 L1241.4 401.2 L1241.9 402.5 L1242.5 403.5 L1243.1 404.5 L1243.8 405.3 L1244.4 406 L1245.1 406.6 L1245.8 407.1 L1246.5 407.4 L1247.2 407.7 L1247.9 407.8 L1248.7 407.8 L1249.5 407.7 L1250.3 407.5 L1251.1 407.1 L1251.9 406.7 L1252.7 406.1 L1253.5 405.4 L1254.3 404.6 L1255.1 403.6 L1256 402.5 L1256.8 401.3 L1257.6 400 L1258.4 398.7 L1259.2 397.3 L1259.9 395.7 L1260.6 394.1 L1261.3 392.5 L1262 390.7 L1262.7 388.9 L1263.4 387 L1264 385.1 L1264.7 383.1 L1265.3 381.1 L1265.8 379 L1266.3 376.8 L1266.7 374.5 L1267.1 372 L1267.4 369.5 L1267.6 367 L1267.9 364.6 L1268.1 362.2 L1268.3 360 L1268.4 357.8 L1268.5 355.7 L1268.5 353.6 L1268.6 351.6 L1268.8 349.5 L1269 347.4 L1269.3 345.4 L1269.5 343.4 L1269.8 341.3 L1270.2 339.3 L1270.6 337.3 L1271.1 335.3 L1271.6 333.2 L1272.1 331.1 L1272.7 329.1 L1273.4 327.1 L1274.2 325.2 L1275.1 323.4 L1276 321.6 L1277.1 319.8 L1278.2 318.2 L1279.3 316.7 L1280.3 315.4 L1281.3 314.3 L1282.3 313.4 L1283.3 312.6 L1284.3 311.9 L1285.4 311.2 L1286.4 310.6 L1287.5 310 L1288.6 309.4 L1289.7 308.9 L1290.8 308.5 L1291.9 308 L1293 307.5" fill="none" stroke="#ff1616" stroke-width="2.5" stroke-linejoin="round"/>
<path d="M1165.1 395.8 L1148.7 386.5 L1134 377.5 L1123 370.5 L1117 366 L1123.7 367.2 L1200 338.3 L1270 311.8 L1325.3 291.1 L1332 287.8 L1340 297.5 L1322 297.5" fill="none" stroke="#111" stroke-width="2.5" stroke-dasharray="2.9 5"/>
<path d="M1229.2 251.6L1239.5 263.1L1255.4 254.6" fill="none" stroke="#ff1616" stroke-width="1.1" stroke-opacity="0.85"/>
<path d="M1325.9 365.2L1332 376.2L1344.2 369.5" fill="none" stroke="#ff1616" stroke-width="1.1" stroke-opacity="0.85"/>
<path d="M1189.4 352L1205.3 349.5L1206.5 362.9" fill="none" stroke="#ff1616" stroke-width="1.1" stroke-opacity="0.85"/>
<path d="M1426.9 262.7L1410.5 257.3L1409.9 274.9" fill="none" stroke="#ff1616" stroke-width="1.1" stroke-opacity="0.85"/>
<path d="M1504.8 279.8L1487.2 276.1L1487.2 295" fill="none" stroke="#ff1616" stroke-width="1.1" stroke-opacity="0.85"/>
<path d="M1133.5 389.7L1126.2 378.1L1141.4 375.7" fill="none" stroke="#222" stroke-width="1.1" stroke-opacity="0.85"/>
<rect x="1324.5" y="280.3" width="15" height="15" fill="#000"/>
<circle cx="1165.1" cy="395.8" r="7.1" fill="#000"/>
<path d="M1074.1 378.7L1331.9 493.4L1589.8 379.3L1597.8 121.7" fill="none" stroke="#1a1a1a" stroke-width="1.9" stroke-linejoin="round"/>
<path d="M1090.6 384.8L1084.1 387.6M1143.6 408.4L1137.1 411.2M1198.6 432.8L1192.1 435.6M1255.6 458.2L1249.1 461M1314.7 484.5L1308.2 487.3M1372.2 474.3L1378.7 477.1M1434.8 446.6L1441.3 449.4M1495.1 419.9L1501.6 422.7M1553.1 394.3L1559.6 397.1M1589.6 335.5L1596.1 337.1M1590.9 295.4L1597.4 297M1592.1 255L1598.6 256.6M1593.4 214.2L1599.9 215.8M1594.7 173L1601.2 174.6M1596 131.4L1602.5 133" fill="none" stroke="#1a1a1a" stroke-width="1.6"/>
<text x="988" y="124.7" font-size="40" text-anchor="start" fill="#000" stroke-width="0.7">(c)</text>
<text x="1068.4" y="433.7" font-size="24.5" text-anchor="middle" fill="#000">0</text>
<text x="1121" y="458.1" font-size="24.5" text-anchor="middle" fill="#000">2</text>
<text x="1176.3" y="483.8" font-size="24.5" text-anchor="middle" fill="#000">4</text>
<text x="1232.7" y="509.2" font-size="24.5" text-anchor="middle" fill="#000">6</text>
<text x="1291.7" y="535.9" font-size="24.5" text-anchor="middle" fill="#000">8</text>
<text x="1396.7" y="526.6" font-size="24.5" text-anchor="middle" fill="#000">6</text>
<text x="1459.2" y="496.8" font-size="24.5" text-anchor="middle" fill="#000">7</text>
<text x="1518.2" y="468.4" font-size="24.5" text-anchor="middle" fill="#000">8</text>
<text x="1575.6" y="442.9" font-size="24.5" text-anchor="middle" fill="#000">9</text>
<text x="1642.9" y="148.9" font-size="24.5" text-anchor="middle" fill="#000">1.2</text>
<text x="1640.1" y="190.9" font-size="24.5" text-anchor="middle" fill="#000">1.0</text>
<text x="1638.4" y="231.5" font-size="24.5" text-anchor="middle" fill="#000">0.8</text>
<text x="1636.7" y="272.2" font-size="24.5" text-anchor="middle" fill="#000">0.6</text>
<text x="1634.7" y="313.1" font-size="24.5" text-anchor="middle" fill="#000">0.4</text>
<text x="1633.5" y="352.8" font-size="24.5" text-anchor="middle" fill="#000">0.2</text>
<text x="1051" y="462" font-size="24.5" text-anchor="middle" transform="rotate(24 1051 462)">×10<tspan dy="-12.7" font-size="17.6">22</tspan></text>
<text x="1613.2" y="463.5" font-size="24.5" text-anchor="middle" transform="rotate(-24 1613.2 463.5)">×10<tspan dy="-12.7" font-size="17.6">23</tspan></text>
<text x="1146" y="512" font-size="25" text-anchor="middle" transform="rotate(24 1146 512)">N<tspan dy="6.5" font-size="18">Q</tspan><tspan dy="-6.5"> [m</tspan><tspan dy="-14.5" font-size="18"> −3</tspan><tspan dy="14.5">]</tspan></text>
<text x="1520.5" y="511.3" font-size="26" text-anchor="middle" transform="rotate(-24 1520.5 511.3)">N<tspan dy="6.8" font-size="18.7">G</tspan><tspan dy="-6.8"> [m</tspan><tspan dy="-15.1" font-size="18.7">−3</tspan><tspan dy="15.1">]</tspan></text>
<text x="1694.4" y="252.9" font-size="24.5" text-anchor="middle" fill="#000" transform="rotate(-90 1694.4 252.9)">S [-]</text>
<text x="1701" y="148" font-size="24.5" text-anchor="middle" transform="rotate(-90 1701 148)">×10<tspan dy="-12.7" font-size="17.6">7</tspan></text>
<rect x="97.6" y="638.2" width="673.1" height="259.7" fill="#fff"/>
<path d="M158.8 638.2L158.8 897.9M281.2 638.2L281.2 897.9M403.6 638.2L403.6 897.9M526 638.2L526 897.9M648.4 638.2L648.4 897.9M770.8 638.2L770.8 897.9M97.6 886.5L770.7 886.5M97.6 789.1L770.7 789.1M97.6 691.8L770.7 691.8" fill="none" stroke="#b6b6b6" stroke-width="1.5"/>
<clipPath id="cb"><rect x="97.6" y="638.2" width="673.1" height="259.7"/></clipPath><g clip-path="url(#cb)">
<path d="M97 886.5 L101 886.5 L105.2 886.5 L109.3 886.5 L113.5 886.5 L117.6 886.5 L121.5 886.5 L125.2 886.5 L128.7 886.5 L131.9 886.5 L134.9 886.5 L137.7 886.5 L140.4 886.4 L142.9 886.4 L145.3 886.4 L147.6 886.3 L149.8 886.2 L151.8 886.1 L153.7 886 L155.5 885.9 L157.1 885.8 L158.6 885.7 L160.1 885.5 L161.5 885.2 L162.9 884.9 L164.3 884.5 L165.6 884.1 L166.8 883.7 L168 883.2 L169.1 882.7 L170.1 882.1 L171.2 881.4 L172.2 880.7 L173.1 879.9 L174 879.1 L174.9 878.2 L175.7 877.3 L176.5 876.3 L177.3 875.2 L178 874 L178.8 872.8 L179.5 871.4 L180.2 870 L180.9 868.4 L181.6 866.8 L182.2 865.1 L182.9 863.4 L183.5 861.5 L184 859.6 L184.6 857.6 L185.1 855.6 L185.7 853.5 L186.1 851.3 L186.6 849 L187.1 846.6 L187.5 844 L188 841.1 L188.5 838 L188.9 834.7 L189.4 831.1 L189.8 827.4 L190.2 823.6 L190.6 819.8 L191 815.9 L191.4 812.1 L191.8 808.3 L192.1 804.4 L192.5 800.5 L192.8 796.6 L193.1 792.6 L193.4 788.6 L193.7 784.5 L194.1 780.4 L194.4 776.2 L194.7 771.9 L195.1 767.5 L195.4 763.1 L195.7 758.7 L196.1 754.4 L196.4 750.2 L196.7 746.2 L197 742.2 L197.4 738.3 L197.7 734.5 L198 730.7 L198.4 727.1 L198.7 723.6 L199 720.3 L199.3 717.1 L199.7 714.1 L200 711.3 L200.4 708.5 L200.7 705.9 L201 703.5 L201.4 701.2 L201.7 699.2 L202 697.4 L202.3 695.8 L202.6 694.4 L202.8 693.3 L203.1 692.3 L203.3 691.5 L203.6 690.7 L203.8 690.1 L204.1 689.4 L204.3 688.9 L204.6 688.4 L204.8 688 L205 687.8 L205.3 687.6 L205.5 687.4 L205.7 687.3 L205.9 687.3 L206.2 687.3 L206.4 687.4 L206.6 687.6 L206.8 687.8 L207 688 L207.3 688.4 L207.5 688.9 L207.8 689.4 L208.1 690.1 L208.4 690.8 L208.7 691.6 L209 692.5 L209.3 693.5 L209.7 694.6 L210 695.9 L210.4 697.4 L210.8 699 L211.3 700.8 L211.8 702.8 L212.2 704.9 L212.7 707.2 L213.3 709.5 L213.8 712 L214.4 714.5 L215 717.1 L215.6 719.8 L216.2 722.7 L216.9 725.6 L217.5 728.7 L218.2 731.8 L218.9 735 L219.7 738.2 L220.4 741.6 L221.2 745.1 L222 748.7 L222.8 752.4 L223.6 756.1 L224.5 759.9 L225.4 763.6 L226.3 767.3 L227.2 770.9 L228.1 774.7 L229.1 778.5 L230.1 782.3 L231.1 786 L232.2 789.6 L233.2 793 L234.2 796.3 L235.2 799.3 L236.1 802.3 L237.1 805.1 L238.1 807.7 L239.1 810.3 L240.1 812.7 L241.1 815.1 L242.1 817.4 L243.1 819.5 L244 821.5 L244.9 823.4 L245.9 825.2 L246.8 826.9 L247.8 828.6 L248.9 830.2 L250 831.9 L251.2 833.5 L252.4 835.1 L253.8 836.7 L255.1 838.3 L256.5 839.7 L257.8 841.2 L259.2 842.5 L260.5 843.8 L261.9 844.9 L263.2 846 L264.5 847 L265.8 847.9 L267.1 848.8 L268.5 849.6 L269.8 850.4 L271.1 851.1 L272.4 851.8 L273.7 852.4 L275.1 852.9 L276.4 853.4 L277.7 853.9 L279 854.3 L280.3 854.7 L281.6 855.1 L282.9 855.5 L284.2 855.8 L285.5 856.2 L286.8 856.5 L288 856.8 L289.4 857 L290.8 857.3 L292.2 857.5 L293.7 857.7 L295.3 857.8 L297 858 L298.6 858.1 L300.3 858.2 L302 858.2 L303.7 858.3 L305.4 858.3 L307 858.2 L308.6 858.1 L310.2 858 L311.8 857.8 L313.4 857.6 L315.1 857.4 L316.8 857.2 L318.6 856.9 L320.4 856.7 L322.3 856.4 L324.3 856.1 L326.3 855.7 L328.4 855.4 L330.4 855 L332.4 854.7 L334.4 854.3 L336.4 853.9 L338.4 853.5 L340.3 853.1 L342.3 852.7 L344.3 852.2 L346.3 851.8 L348.3 851.5 L350.2 851.1 L352.3 850.8 L354.4 850.6 L356.5 850.3 L358.7 850.1 L360.8 849.9 L362.7 849.7 L364.5 849.5 L366.1 849.3 L367.3 849.1 L368.4 849 L369.2 848.9 L370 848.8 L370.6 848.6 L371.4 848.5 L372.2 848.4 L373.2 848.2 L374.4 848 L375.6 847.8 L377 847.6 L378.4 847.4 L379.8 847.1 L381.2 846.8 L382.5 846.5 L383.7 846.1 L384.8 845.6 L385.9 845.1 L386.9 844.5 L387.9 843.9 L388.8 843.3 L389.7 842.6 L390.7 841.8 L391.6 841.1 L392.6 840.2 L393.6 839.3 L394.6 838.3 L395.6 837.3 L396.6 836.2 L397.6 835.2 L398.6 834.1 L399.6 833.1 L400.5 832.2 L401.5 831.2 L402.5 830.2 L403.5 829.2 L404.5 828.2 L405.5 827.3 L406.5 826.5 L407.5 825.8 L408.5 825.1 L409.4 824.5 L410.4 824 L411.4 823.6 L412.4 823.2 L413.4 822.9 L414.4 822.7 L415.4 822.6 L416.4 822.6 L417.4 822.8 L418.3 823 L419.3 823.3 L420.3 823.7 L421.3 824.2 L422.3 824.7 L423.3 825.2 L424.3 825.9 L425.2 826.5 L426.1 827.3 L427.1 828.1 L428 829 L429 829.9 L430.1 830.9 L431.2 831.8 L432.4 832.9 L433.7 834 L435 835.2 L436.3 836.4 L437.7 837.7 L439.1 838.9 L440.4 840 L441.8 841.1 L443.1 842 L444.3 842.9 L445.6 843.8 L446.9 844.7 L448.2 845.4 L449.5 846.2 L450.9 846.9 L452.3 847.7 L453.8 848.3 L455.4 849 L457.1 849.6 L458.7 850.1 L460.4 850.7 L462.1 851.2 L463.8 851.7 L465.5 852.1 L467.1 852.6 L468.7 853 L470.2 853.3 L471.7 853.7 L473.3 854 L475 854.3 L476.8 854.5 L478.7 854.8 L480.7 855 L482.9 855.2 L485.1 855.4 L487.4 855.6 L489.8 855.7 L492.2 855.8 L494.7 855.8 L497.1 855.8 L499.6 855.8 L502.2 855.6 L504.8 855.5 L507.5 855.3 L510.2 855 L512.9 854.8 L515.6 854.5 L518.2 854.2 L520.9 854 L523.5 853.6 L526.1 853.3 L528.7 852.9 L531.4 852.6 L534 852.2 L536.7 851.9 L539.3 851.6 L542 851.3 L544.7 851.1 L547.4 850.8 L550.1 850.6 L552.8 850.4 L555.5 850.2 L558.2 850 L560.9 849.8 L563.5 849.6 L566 849.4 L568.4 849.3 L570.9 849.1 L573.4 848.9 L576 848.8 L578.8 848.7 L581.7 848.7 L584.8 848.7 L588 848.7 L591.2 848.8 L594.6 848.9 L598.1 849.1 L601.8 849.2 L605.6 849.3 L609.6 849.4 L613.7 849.5 L617.9 849.6 L622.3 849.7 L626.8 849.8 L631.5 849.9 L636.4 850 L641.6 850 L647.1 850.1 L652.8 850.1 L658.8 850.1 L665 850.2 L671.4 850.1 L678.1 850.1 L685.1 850.1 L692.4 850.1 L700 850.1 L708.1 850.1 L716.7 850.1 L725.6 850.1 L734.8 850.1 L744.2 850.1 L753.6 850.1 L762.9 850.1 L772 850.1" fill="none" stroke="#2020ff" stroke-width="2.7"/>
<path d="M97.6 886.5 L360 886.4 L362.4 886.4 L364.8 886.4 L367.3 886.5 L369.7 886.5 L372.1 886.5 L374.4 886.5 L376.5 886.4 L378.5 886.2 L380.2 885.9 L381.7 885.6 L383.2 885.2 L384.5 884.8 L385.7 884.3 L386.8 883.6 L387.9 882.9 L389 881.9 L390 880.9 L391 879.7 L391.9 878.5 L392.7 877.1 L393.5 875.5 L394.2 873.9 L394.9 872 L395.6 870.1 L396.2 868 L396.8 865.9 L397.3 863.8 L397.7 861.4 L398.2 858.8 L398.6 855.9 L399.1 852.7 L399.6 849 L400.1 844.8 L400.5 840.4 L401 835.6 L401.5 830.5 L402 825.1 L402.5 819.3 L403 813.2 L403.5 806.8 L404 799.8 L404.5 792.2 L405 784.1 L405.5 775.8 L406 767.4 L406.5 759.1 L407 751 L407.5 743.5 L408 736.2 L408.5 729 L409 721.9 L409.5 715 L410 708.3 L410.5 702 L411 696.1 L411.4 690.7 L411.8 685.9 L412.2 681.4 L412.5 677.3 L412.9 673.6 L413.2 670.2 L413.5 667.1 L413.8 664.3 L414.1 661.7 L414.4 659.5 L414.6 657.6 L414.9 656.1 L415.2 654.8 L415.4 653.8 L415.7 652.8 L415.9 652 L416.2 651.2 L416.4 650.4 L416.6 649.8 L416.9 649.4 L417.1 649 L417.3 648.8 L417.5 648.6 L417.8 648.5 L418 648.5 L418.3 648.6 L418.5 648.8 L418.8 649.1 L419.1 649.5 L419.3 650 L419.6 650.5 L419.9 651.1 L420.1 651.7 L420.4 652.3 L420.6 652.9 L420.7 653.5 L420.9 654.1 L421.1 654.9 L421.4 656 L421.6 657.4 L422 659.1 L422.4 661.2 L422.8 663.5 L423.2 666.1 L423.7 669 L424.3 672.1 L424.8 675.4 L425.4 679 L425.9 682.8 L426.5 687.1 L427.2 691.7 L427.8 696.7 L428.5 702 L429.2 707.2 L429.9 712.5 L430.5 717.6 L431.2 722.4 L431.9 727 L432.5 731.5 L433.2 735.9 L433.8 740.2 L434.5 744.4 L435.2 748.6 L435.8 752.7 L436.5 756.7 L437.1 760.5 L437.7 764.2 L438.3 767.8 L438.9 771.3 L439.6 774.8 L440.2 778.4 L441 782 L441.8 785.7 L442.6 789.6 L443.5 793.7 L444.5 797.8 L445.5 802 L446.6 806.1 L447.6 810.1 L448.7 813.9 L449.7 817.3 L450.7 820.5 L451.6 823.6 L452.6 826.4 L453.6 829.1 L454.6 831.7 L455.6 834 L456.6 836.3 L457.6 838.4 L458.5 840.4 L459.5 842.1 L460.4 843.6 L461.4 845 L462.3 846.3 L463.3 847.6 L464.4 848.9 L465.5 850.3 L466.6 851.7 L467.8 853 L469 854.3 L470.3 855.6 L471.6 856.9 L473 858.2 L474.4 859.5 L476 860.8 L477.8 862.2 L479.6 863.6 L481.6 865 L483.6 866.4 L485.7 867.7 L487.8 869 L489.8 870.3 L491.9 871.4 L493.8 872.4 L495.8 873.4 L497.8 874.3 L499.8 875.1 L501.7 875.9 L503.7 876.6 L505.7 877.3 L507.7 878 L509.6 878.6 L511.5 879.2 L513.4 879.7 L515.3 880.2 L517.2 880.6 L519.2 881.1 L521.3 881.5 L523.5 881.9 L525.9 882.4 L528.4 882.8 L531 883.3 L533.7 883.7 L536.5 884.1 L539.2 884.5 L541.9 884.8 L544.6 885.1 L547.1 885.4 L549.6 885.6 L551.9 885.8 L554.3 886 L556.8 886.1 L559.5 886.2 L562.4 886.3 L565.7 886.4 L569.4 886.5 L573.3 886.5 L577.6 886.5 L582 886.5 L586.5 886.5 L591.1 886.4 L595.6 886.4 L600 886.4 L770.7 886.5" fill="none" stroke="#ff1616" stroke-width="2.7" stroke-dasharray="10.4 4.5"/>
<path d="M97.6 886.5 L360 886.4 L362.7 886.4 L365.5 886.4 L368.4 886.4 L371.2 886.4 L374 886.3 L376.6 886.3 L379 886.3 L381.1 886.2 L382.9 886.1 L384.5 886 L385.8 886 L387 885.9 L388.2 885.8 L389.3 885.5 L390.4 885.1 L391.6 884.6 L393 883.8 L394.4 882.9 L395.8 881.8 L397.2 880.7 L398.5 879.4 L399.8 878.1 L401.1 876.7 L402.2 875.3 L403.2 873.9 L404.2 872.5 L405 871 L405.8 869.5 L406.6 867.9 L407.3 866.1 L408.1 864.2 L408.8 862.2 L409.5 860 L410.2 857.6 L410.9 855.2 L411.5 852.6 L412.1 849.9 L412.8 847.1 L413.4 844.1 L414.1 841.1 L414.7 837.8 L415.4 834.4 L416 830.9 L416.7 827.2 L417.4 823.5 L418 819.7 L418.7 815.9 L419.3 812.1 L420 808.2 L420.7 804.1 L421.3 800 L422 795.9 L422.7 791.8 L423.3 787.8 L424 784 L424.6 780.4 L425.2 777 L425.8 773.6 L426.4 770.3 L427 767.2 L427.6 764.2 L428.1 761.5 L428.6 758.9 L429.1 756.7 L429.5 754.7 L429.9 753 L430.3 751.5 L430.6 750.3 L430.9 749.2 L431.2 748.3 L431.5 747.4 L431.7 746.6 L432 746 L432.2 745.5 L432.4 745.2 L432.6 744.9 L432.8 744.8 L432.9 744.8 L433.1 744.8 L433.3 744.8 L433.5 744.9 L433.7 745.1 L433.9 745.3 L434.1 745.6 L434.3 746 L434.5 746.4 L434.7 746.9 L434.9 747.4 L435.1 748 L435.2 748.5 L435.4 749 L435.5 749.6 L435.7 750.3 L435.9 751.3 L436.2 752.5 L436.5 754 L436.8 755.9 L437.3 758.2 L437.7 760.7 L438.2 763.3 L438.7 766.2 L439.3 769.1 L439.9 772.1 L440.4 775.1 L441 778.2 L441.7 781.4 L442.3 784.7 L443 788.2 L443.7 791.6 L444.4 795 L445 798.3 L445.7 801.5 L446.4 804.6 L447 807.7 L447.7 810.7 L448.3 813.7 L449 816.6 L449.7 819.5 L450.3 822.4 L451 825.2 L451.6 828 L452.3 830.8 L453 833.5 L453.6 836.1 L454.3 838.7 L454.9 841.3 L455.6 843.8 L456.3 846.3 L456.9 848.8 L457.6 851.3 L458.2 853.7 L458.9 856.1 L459.6 858.4 L460.2 860.6 L460.9 862.8 L461.5 864.8 L462.2 866.7 L462.8 868.6 L463.5 870.4 L464.2 872.1 L464.8 873.7 L465.5 875.3 L466.1 876.7 L466.8 878 L467.5 879.2 L468.1 880.2 L468.7 881.1 L469.4 882 L470 882.7 L470.7 883.4 L471.4 884 L472.1 884.6 L472.6 885 L472.9 885.4 L473 885.7 L473.2 885.9 L473.7 886.1 L474.7 886.2 L476.3 886.3 L478.7 886.4 L482 886.5 L486.2 886.5 L491.1 886.6 L496.4 886.5 L501.9 886.5 L507.6 886.5 L513.1 886.4 L518.2 886.4 L770.7 886.5" fill="none" stroke="#ff1616" stroke-width="2.7" stroke-dasharray="17.9 4.5 2.8 4.5"/>
<path d="M97.6 886.5 L98.9 886.5 L100.3 886.5 L101.6 886.5 L103 886.5 L104.3 886.5 L105.7 886.5 L107 886.5 L108.4 886.5 L109.7 886.5 L111.1 886.5 L112.4 886.5 L113.8 886.5 L115.1 886.5 L116.5 886.5 L117.8 886.5 L119.2 886.5 L120.5 886.5 L121.9 886.5 L123.2 886.5 L124.6 886.5 L125.9 886.5 L127.3 886.5 L128.6 886.5 L130 886.5 L131.3 886.5 L132.7 886.5 L134 886.5 L135.4 886.5 L136.7 886.5 L138.1 886.5 L139.4 886.5 L140.8 886.5 L142.1 886.5 L143.5 886.5 L144.8 886.5 L146.2 886.5 L147.5 886.5 L148.9 886.5 L150.2 886.5 L151.6 886.5 L152.9 886.5 L154.3 886.5 L155.6 886.5 L157 886.5 L158.3 886.5 L159.7 886.5 L161 886.5 L162.4 886.5 L163.7 886.5 L165.1 886.5 L166.4 886.5 L167.8 886.5 L169.1 886.5 L170.5 886.5 L171.8 886.5 L173.1 886.5 L174.5 886.5 L175.8 886.5 L177.2 886.5 L178.5 886.5 L179.9 886.5 L181.2 886.5 L182.6 886.5 L183.9 886.5 L185.3 886.5 L186.6 886.5 L188 886.5 L189.3 886.5 L190.7 886.5 L192 886.5 L193.4 886.5 L194.7 886.5 L196.1 886.5 L197.4 886.5 L198.8 886.5 L200.1 886.5 L201.5 886.5 L202.8 886.5 L204.2 886.5 L205.5 886.5 L206.9 886.5 L208.2 886.5 L209.6 886.5 L210.9 886.5 L212.3 886.5 L213.6 886.5 L215 886.5 L216.3 886.5 L217.7 886.5 L219 886.5 L220.4 886.5 L221.7 886.5 L223.1 886.5 L224.4 886.5 L225.8 886.5 L227.1 886.5 L228.5 886.5 L229.8 886.5 L231.2 886.5 L232.5 886.5 L233.9 886.5 L235.2 886.5 L236.6 886.5 L237.9 886.5 L239.3 886.5 L240.6 886.5 L242 886.5 L243.3 886.5 L244.7 886.5 L246 886.5 L247.3 886.5 L248.7 886.5 L250 886.5 L251.4 886.5 L252.7 886.5 L254.1 886.5 L255.4 886.5 L256.8 886.5 L258.1 886.5 L259.5 886.5 L260.8 886.5 L262.2 886.5 L263.5 886.5 L264.9 886.5 L266.2 886.5 L267.6 886.5 L268.9 886.5 L270.3 886.5 L271.6 886.5 L273 886.5 L274.3 886.5 L275.7 886.5 L277 886.5 L278.4 886.5 L279.7 886.5 L281.1 886.5 L282.4 886.5 L283.8 886.5 L285.1 886.5 L286.5 886.5 L287.8 886.5 L289.2 886.5 L290.5 886.5 L291.9 886.5 L293.2 886.5 L294.6 886.5 L295.9 886.5 L297.3 886.5 L298.6 886.5 L300 886.5 L301.3 886.5 L302.7 886.5 L304 886.5 L305.4 886.5 L306.7 886.5 L308.1 886.5 L309.4 886.5 L310.8 886.5 L312.1 886.5 L313.5 886.5 L314.8 886.5 L316.2 886.5 L317.5 886.5 L318.9 886.5 L320.2 886.5 L321.6 886.5 L322.9 886.5 L324.2 886.5 L325.6 886.5 L326.9 886.5 L328.3 886.5 L329.6 886.5 L331 886.5 L332.3 886.5 L333.7 886.5 L335 886.5 L336.4 886.5 L337.7 886.5 L339.1 886.5 L340.4 886.5 L341.8 886.5 L343.1 886.5 L344.5 886.5 L345.8 886.5 L347.2 886.5 L348.5 886.5 L349.9 886.5 L351.2 886.5 L352.6 886.5 L353.9 886.5 L355.3 886.5 L356.6 886.5 L358 886.5 L359.3 886.5 L360.7 886.5 L362 886.5 L363.4 886.5 L364.7 886.5 L366.1 886.5 L367.4 886.5 L368.8 886.5 L370.1 886.5 L371.5 886.5 L372.8 886.5 L374.2 886.5 L375.5 886.5 L376.9 886.5 L378.2 886.4 L379.6 886.4 L380.9 886.4 L382.3 886.3 L383.6 886.2 L385 886.1 L386.3 886 L387.7 885.8 L389 885.5 L390.4 885.2 L391.7 884.8 L393.1 884.3 L394.4 883.8 L395.8 883.2 L397.1 882.6 L398.4 881.9 L399.8 881.2 L401.1 880.5 L402.5 879.9 L403.8 879.3 L405.2 878.9 L406.5 878.6 L407.9 878.4 L409.2 878.4 L410.6 878.6 L411.9 878.9 L413.3 879.4 L414.6 879.9 L416 880.6 L417.3 881.2 L418.7 881.9 L420 882.6 L421.4 883.3 L422.7 883.9 L424.1 884.4 L425.4 884.8 L426.8 885.2 L428.1 885.5 L429.5 885.8 L430.8 886 L432.2 886.1 L433.5 886.2 L434.9 886.3 L436.2 886.4 L437.6 886.4 L438.9 886.5 L440.3 886.5 L441.6 886.5 L443 886.5 L444.3 886.5 L445.7 886.5 L447 886.5 L448.4 886.5 L449.7 886.5 L451.1 886.5 L452.4 886.5 L453.8 886.5 L455.1 886.5 L456.5 886.5 L457.8 886.5 L459.2 886.5 L460.5 886.5 L461.9 886.5 L463.2 886.5 L464.6 886.5 L465.9 886.5 L467.3 886.5 L468.6 886.5 L470 886.5 L471.3 886.5 L472.6 886.5 L474 886.5 L475.3 886.5 L476.7 886.5 L478 886.5 L479.4 886.5 L480.7 886.5 L482.1 886.5 L483.4 886.5 L484.8 886.5 L486.1 886.5 L487.5 886.5 L488.8 886.5 L490.2 886.5 L491.5 886.5 L492.9 886.5 L494.2 886.5 L495.6 886.5 L496.9 886.5 L498.3 886.5 L499.6 886.5 L501 886.5 L502.3 886.5 L503.7 886.5 L505 886.5 L506.4 886.5 L507.7 886.5 L509.1 886.5 L510.4 886.5 L511.8 886.5 L513.1 886.5 L514.5 886.5 L515.8 886.5 L517.2 886.5 L518.5 886.5 L519.9 886.5 L521.2 886.5 L522.6 886.5 L523.9 886.5 L525.3 886.5 L526.6 886.5 L528 886.5 L529.3 886.5 L530.7 886.5 L532 886.5 L533.4 886.5 L534.7 886.5 L536.1 886.5 L537.4 886.5 L538.8 886.5 L540.1 886.5 L541.5 886.5 L542.8 886.5 L544.2 886.5 L545.5 886.5 L546.8 886.5 L548.2 886.5 L549.5 886.5 L550.9 886.5 L552.2 886.5 L553.6 886.5 L554.9 886.5 L556.3 886.5 L557.6 886.5 L559 886.5 L560.3 886.5 L561.7 886.5 L563 886.5 L564.4 886.5 L565.7 886.5 L567.1 886.5 L568.4 886.5 L569.8 886.5 L571.1 886.5 L572.5 886.5 L573.8 886.5 L575.2 886.5 L576.5 886.5 L577.9 886.5 L579.2 886.5 L580.6 886.5 L581.9 886.5 L583.3 886.5 L584.6 886.5 L586 886.5 L587.3 886.5 L588.7 886.5 L590 886.5 L591.4 886.5 L592.7 886.5 L594.1 886.5 L595.4 886.5 L596.8 886.5 L598.1 886.5 L599.5 886.5 L600.8 886.5 L602.2 886.5 L603.5 886.5 L604.9 886.5 L606.2 886.5 L607.6 886.5 L608.9 886.5 L610.3 886.5 L611.6 886.5 L613 886.5 L614.3 886.5 L615.7 886.5 L617 886.5 L618.4 886.5 L619.7 886.5 L621.1 886.5 L622.4 886.5 L623.7 886.5 L625.1 886.5 L626.4 886.5 L627.8 886.5 L629.1 886.5 L630.5 886.5 L631.8 886.5 L633.2 886.5 L634.5 886.5 L635.9 886.5 L637.2 886.5 L638.6 886.5 L639.9 886.5 L641.3 886.5 L642.6 886.5 L644 886.5 L645.3 886.5 L646.7 886.5 L648 886.5 L649.4 886.5 L650.7 886.5 L652.1 886.5 L653.4 886.5 L654.8 886.5 L656.1 886.5 L657.5 886.5 L658.8 886.5 L660.2 886.5 L661.5 886.5 L662.9 886.5 L664.2 886.5 L665.6 886.5 L666.9 886.5 L668.3 886.5 L669.6 886.5 L671 886.5 L672.3 886.5 L673.7 886.5 L675 886.5 L676.4 886.5 L677.7 886.5 L679.1 886.5 L680.4 886.5 L681.8 886.5 L683.1 886.5 L684.5 886.5 L685.8 886.5 L687.2 886.5 L688.5 886.5 L689.9 886.5 L691.2 886.5 L692.6 886.5 L693.9 886.5 L695.3 886.5 L696.6 886.5 L697.9 886.5 L699.3 886.5 L700.6 886.5 L702 886.5 L703.3 886.5 L704.7 886.5 L706 886.5 L707.4 886.5 L708.7 886.5 L710.1 886.5 L711.4 886.5 L712.8 886.5 L714.1 886.5 L715.5 886.5 L716.8 886.5 L718.2 886.5 L719.5 886.5 L720.9 886.5 L722.2 886.5 L723.6 886.5 L724.9 886.5 L726.3 886.5 L727.6 886.5 L729 886.5 L730.3 886.5 L731.7 886.5 L733 886.5 L734.4 886.5 L735.7 886.5 L737.1 886.5 L738.4 886.5 L739.8 886.5 L741.1 886.5 L742.5 886.5 L743.8 886.5 L745.2 886.5 L746.5 886.5 L747.9 886.5 L749.2 886.5 L750.6 886.5 L751.9 886.5 L753.3 886.5 L754.6 886.5 L756 886.5 L757.3 886.5 L758.7 886.5 L760 886.5 L761.4 886.5 L762.7 886.5 L764.1 886.5 L765.4 886.5 L766.8 886.5 L768.1 886.5 L769.5 886.5 L770.8 886.5" fill="none" stroke="#111" stroke-width="2.7" stroke-dasharray="2.8 4.6"/>
<path d="M97.6 886.5 L98.9 886.5 L100.3 886.5 L101.6 886.5 L103 886.5 L104.3 886.5 L105.7 886.5 L107 886.5 L108.4 886.5 L109.7 886.5 L111.1 886.5 L112.4 886.5 L113.8 886.5 L115.1 886.5 L116.5 886.5 L117.8 886.5 L119.2 886.5 L120.5 886.5 L121.9 886.5 L123.2 886.5 L124.6 886.5 L125.9 886.5 L127.3 886.5 L128.6 886.5 L130 886.5 L131.3 886.5 L132.7 886.5 L134 886.5 L135.4 886.5 L136.7 886.5 L138.1 886.5 L139.4 886.5 L140.8 886.5 L142.1 886.5 L143.5 886.5 L144.8 886.5 L146.2 886.5 L147.5 886.5 L148.9 886.5 L150.2 886.5 L151.6 886.5 L152.9 886.5 L154.3 886.5 L155.6 886.5 L157 886.5 L158.3 886.5 L159.7 886.5 L161 886.5 L162.4 886.5 L163.7 886.5 L165.1 886.5 L166.4 886.5 L167.8 886.5 L169.1 886.5 L170.5 886.5 L171.8 886.5 L173.1 886.5 L174.5 886.5 L175.8 886.5 L177.2 886.5 L178.5 886.5 L179.9 886.5 L181.2 886.5 L182.6 886.5 L183.9 886.5 L185.3 886.5 L186.6 886.5 L188 886.5 L189.3 886.5 L190.7 886.5 L192 886.5 L193.4 886.5 L194.7 886.5 L196.1 886.5 L197.4 886.5 L198.8 886.5 L200.1 886.5 L201.5 886.5 L202.8 886.5 L204.2 886.5 L205.5 886.5 L206.9 886.5 L208.2 886.5 L209.6 886.5 L210.9 886.5 L212.3 886.5 L213.6 886.5 L215 886.5 L216.3 886.5 L217.7 886.5 L219 886.5 L220.4 886.5 L221.7 886.5 L223.1 886.5 L224.4 886.5 L225.8 886.5 L227.1 886.5 L228.5 886.5 L229.8 886.5 L231.2 886.5 L232.5 886.5 L233.9 886.5 L235.2 886.5 L236.6 886.5 L237.9 886.5 L239.3 886.5 L240.6 886.5 L242 886.5 L243.3 886.5 L244.7 886.5 L246 886.5 L247.3 886.5 L248.7 886.5 L250 886.5 L251.4 886.5 L252.7 886.5 L254.1 886.5 L255.4 886.5 L256.8 886.5 L258.1 886.5 L259.5 886.5 L260.8 886.5 L262.2 886.5 L263.5 886.5 L264.9 886.5 L266.2 886.5 L267.6 886.5 L268.9 886.5 L270.3 886.5 L271.6 886.5 L273 886.5 L274.3 886.5 L275.7 886.5 L277 886.5 L278.4 886.5 L279.7 886.5 L281.1 886.5 L282.4 886.5 L283.8 886.5 L285.1 886.5 L286.5 886.5 L287.8 886.5 L289.2 886.5 L290.5 886.5 L291.9 886.5 L293.2 886.5 L294.6 886.5 L295.9 886.5 L297.3 886.5 L298.6 886.5 L300 886.5 L301.3 886.5 L302.7 886.5 L304 886.5 L305.4 886.5 L306.7 886.5 L308.1 886.5 L309.4 886.5 L310.8 886.5 L312.1 886.5 L313.5 886.5 L314.8 886.5 L316.2 886.5 L317.5 886.5 L318.9 886.5 L320.2 886.5 L321.6 886.5 L322.9 886.5 L324.2 886.5 L325.6 886.5 L326.9 886.5 L328.3 886.5 L329.6 886.5 L331 886.5 L332.3 886.5 L333.7 886.5 L335 886.5 L336.4 886.5 L337.7 886.5 L339.1 886.5 L340.4 886.5 L341.8 886.5 L343.1 886.5 L344.5 886.5 L345.8 886.5 L347.2 886.5 L348.5 886.5 L349.9 886.5 L351.2 886.5 L352.6 886.5 L353.9 886.5 L355.3 886.5 L356.6 886.5 L358 886.5 L359.3 886.5 L360.7 886.5 L362 886.5 L363.4 886.5 L364.7 886.5 L366.1 886.5 L367.4 886.5 L368.8 886.5 L370.1 886.5 L371.5 886.4 L372.8 886.4 L374.2 886.3 L375.5 886.2 L376.9 886.1 L378.2 885.9 L379.6 885.5 L380.9 885.1 L382.3 884.5 L383.6 883.7 L385 882.6 L386.3 881.3 L387.7 879.7 L389 877.7 L390.4 875.5 L391.7 873 L393.1 870.3 L394.4 867.4 L395.8 864.6 L397.1 861.9 L398.4 859.4 L399.8 857.3 L401.1 855.8 L402.5 854.9 L403.8 854.7 L405.2 855.2 L406.5 856.3 L407.9 858 L409.2 860.2 L410.6 862.8 L411.9 865.6 L413.3 868.5 L414.6 871.3 L416 873.9 L417.3 876.3 L418.7 878.5 L420 880.3 L421.4 881.8 L422.7 883 L424.1 884 L425.4 884.7 L426.8 885.3 L428.1 885.7 L429.5 885.9 L430.8 886.1 L432.2 886.3 L433.5 886.4 L434.9 886.4 L436.2 886.4 L437.6 886.5 L438.9 886.5 L440.3 886.5 L441.6 886.5 L443 886.5 L444.3 886.5 L445.7 886.5 L447 886.5 L448.4 886.5 L449.7 886.5 L451.1 886.5 L452.4 886.5 L453.8 886.5 L455.1 886.5 L456.5 886.5 L457.8 886.5 L459.2 886.5 L460.5 886.5 L461.9 886.5 L463.2 886.5 L464.6 886.5 L465.9 886.5 L467.3 886.5 L468.6 886.5 L470 886.5 L471.3 886.5 L472.6 886.5 L474 886.5 L475.3 886.5 L476.7 886.5 L478 886.5 L479.4 886.5 L480.7 886.5 L482.1 886.5 L483.4 886.5 L484.8 886.5 L486.1 886.5 L487.5 886.5 L488.8 886.5 L490.2 886.5 L491.5 886.5 L492.9 886.5 L494.2 886.5 L495.6 886.5 L496.9 886.5 L498.3 886.5 L499.6 886.5 L501 886.5 L502.3 886.5 L503.7 886.5 L505 886.5 L506.4 886.5 L507.7 886.5 L509.1 886.5 L510.4 886.5 L511.8 886.5 L513.1 886.5 L514.5 886.5 L515.8 886.5 L517.2 886.5 L518.5 886.5 L519.9 886.5 L521.2 886.5 L522.6 886.5 L523.9 886.5 L525.3 886.5 L526.6 886.5 L528 886.5 L529.3 886.5 L530.7 886.5 L532 886.5 L533.4 886.5 L534.7 886.5 L536.1 886.5 L537.4 886.5 L538.8 886.5 L540.1 886.5 L541.5 886.5 L542.8 886.5 L544.2 886.5 L545.5 886.5 L546.8 886.5 L548.2 886.5 L549.5 886.5 L550.9 886.5 L552.2 886.5 L553.6 886.5 L554.9 886.5 L556.3 886.5 L557.6 886.5 L559 886.5 L560.3 886.5 L561.7 886.5 L563 886.5 L564.4 886.5 L565.7 886.5 L567.1 886.5 L568.4 886.5 L569.8 886.5 L571.1 886.5 L572.5 886.5 L573.8 886.5 L575.2 886.5 L576.5 886.5 L577.9 886.5 L579.2 886.5 L580.6 886.5 L581.9 886.5 L583.3 886.5 L584.6 886.5 L586 886.5 L587.3 886.5 L588.7 886.5 L590 886.5 L591.4 886.5 L592.7 886.5 L594.1 886.5 L595.4 886.5 L596.8 886.5 L598.1 886.5 L599.5 886.5 L600.8 886.5 L602.2 886.5 L603.5 886.5 L604.9 886.5 L606.2 886.5 L607.6 886.5 L608.9 886.5 L610.3 886.5 L611.6 886.5 L613 886.5 L614.3 886.5 L615.7 886.5 L617 886.5 L618.4 886.5 L619.7 886.5 L621.1 886.5 L622.4 886.5 L623.7 886.5 L625.1 886.5 L626.4 886.5 L627.8 886.5 L629.1 886.5 L630.5 886.5 L631.8 886.5 L633.2 886.5 L634.5 886.5 L635.9 886.5 L637.2 886.5 L638.6 886.5 L639.9 886.5 L641.3 886.5 L642.6 886.5 L644 886.5 L645.3 886.5 L646.7 886.5 L648 886.5 L649.4 886.5 L650.7 886.5 L652.1 886.5 L653.4 886.5 L654.8 886.5 L656.1 886.5 L657.5 886.5 L658.8 886.5 L660.2 886.5 L661.5 886.5 L662.9 886.5 L664.2 886.5 L665.6 886.5 L666.9 886.5 L668.3 886.5 L669.6 886.5 L671 886.5 L672.3 886.5 L673.7 886.5 L675 886.5 L676.4 886.5 L677.7 886.5 L679.1 886.5 L680.4 886.5 L681.8 886.5 L683.1 886.5 L684.5 886.5 L685.8 886.5 L687.2 886.5 L688.5 886.5 L689.9 886.5 L691.2 886.5 L692.6 886.5 L693.9 886.5 L695.3 886.5 L696.6 886.5 L697.9 886.5 L699.3 886.5 L700.6 886.5 L702 886.5 L703.3 886.5 L704.7 886.5 L706 886.5 L707.4 886.5 L708.7 886.5 L710.1 886.5 L711.4 886.5 L712.8 886.5 L714.1 886.5 L715.5 886.5 L716.8 886.5 L718.2 886.5 L719.5 886.5 L720.9 886.5 L722.2 886.5 L723.6 886.5 L724.9 886.5 L726.3 886.5 L727.6 886.5 L729 886.5 L730.3 886.5 L731.7 886.5 L733 886.5 L734.4 886.5 L735.7 886.5 L737.1 886.5 L738.4 886.5 L739.8 886.5 L741.1 886.5 L742.5 886.5 L743.8 886.5 L745.2 886.5 L746.5 886.5 L747.9 886.5 L749.2 886.5 L750.6 886.5 L751.9 886.5 L753.3 886.5 L754.6 886.5 L756 886.5 L757.3 886.5 L758.7 886.5 L760 886.5 L761.4 886.5 L762.7 886.5 L764.1 886.5 L765.4 886.5 L766.8 886.5 L768.1 886.5 L769.5 886.5 L770.8 886.5" fill="none" stroke="#111" stroke-width="3.3" stroke-dasharray="13.8 14.4"/>
</g>
<path d="M158.8 897.9L158.8 904.9M281.2 897.9L281.2 904.9M403.6 897.9L403.6 904.9M526 897.9L526 904.9M648.4 897.9L648.4 904.9M770.8 897.9L770.8 904.9M97.6 886.5L90.6 886.5M97.6 789.1L90.6 789.1M97.6 691.8L90.6 691.8" fill="none" stroke="#333" stroke-width="1.8"/>
<rect x="97.6" y="638.2" width="673.1" height="259.7" fill="none" stroke="#4a4a4a" stroke-width="2.3"/>
<text x="158.8" y="926" font-size="21.5" text-anchor="middle" fill="#000">0.6</text>
<text x="281.2" y="926" font-size="21.5" text-anchor="middle" fill="#000">0.8</text>
<text x="403.6" y="926" font-size="21.5" text-anchor="middle" fill="#000">1.0</text>
<text x="526" y="926" font-size="21.5" text-anchor="middle" fill="#000">1.2</text>
<text x="648.4" y="926" font-size="21.5" text-anchor="middle" fill="#000">1.4</text>
<text x="770.8" y="926" font-size="21.5" text-anchor="middle" fill="#000">1.6</text>
<text x="84.6" y="893.7" font-size="21.5" text-anchor="end" fill="#000">0</text>
<text x="84.6" y="796.4" font-size="21.5" text-anchor="end" fill="#000">1</text>
<text x="84.6" y="699" font-size="21.5" text-anchor="end" fill="#000">2</text>
<text x="434" y="954.4" font-size="21.5" text-anchor="middle" fill="#000">Time [ns]</text>
<text x="62.5" y="767.6" font-size="21.5" text-anchor="middle" fill="#000" transform="rotate(-90 62.5 767.6)">S [-]</text>
<text x="97.9" y="631.7" font-size="21.5">×10<tspan dy="-11.2" font-size="16.1">7</tspan></text>
<rect x="573.8" y="648.7" width="185.4" height="172.4" rx="4" ry="4" fill="#fff" fill-opacity="0.8" stroke="#cfcfcf" stroke-width="1.4"/>
<path d="M582 666.1L629.6 666.1" stroke="#2020ff" stroke-width="2.7" fill="none"/>
<text x="647" y="673.5" font-size="21.5" word-spacing="1.7">V<tspan dy="5.6" font-size="15">rb</tspan><tspan dy="-5.6"> = 0.0 V</tspan></text>
<path d="M582 699.4L629.6 699.4" stroke="#ff1616" stroke-width="2.7" fill="none" stroke-dasharray="10.4 4.5"/>
<text x="647" y="706.8" font-size="21.5" word-spacing="1.7">V<tspan dy="5.6" font-size="15">rb</tspan><tspan dy="-5.6"> = 1.0 V</tspan></text>
<path d="M582 732.5L629.6 732.5" stroke="#ff1616" stroke-width="2.7" fill="none" stroke-dasharray="17.9 4.5 2.8 4.5"/>
<text x="647" y="739.9" font-size="21.5" word-spacing="1.7">V<tspan dy="5.6" font-size="15">rb</tspan><tspan dy="-5.6"> = 2.0 V</tspan></text>
<path d="M582 765.5L629.6 765.5" stroke="#111" stroke-width="2.7" fill="none" stroke-dasharray="2.8 4.6"/>
<text x="647" y="772.9" font-size="21.5" word-spacing="1.7">V<tspan dy="5.6" font-size="15">rb</tspan><tspan dy="-5.6"> = 3.0 V</tspan></text>
<path d="M582 798.8L629.6 798.8" stroke="#111" stroke-width="3.3" fill="none" stroke-dasharray="13.8 14.4"/>
<text x="647" y="806.2" font-size="21.5" text-anchor="start" fill="#000" letter-spacing="0.2">Injection</text>
<text x="138.5" y="678.5" font-size="39.5" text-anchor="start" fill="#000" stroke-width="0.7">(b)</text>
<rect x="1022.5" y="637.6" width="662.5" height="260.3" fill="#fff"/>
<path d="M1082.5 637.6L1082.5 897.9M1203 637.6L1203 897.9M1323.5 637.6L1323.5 897.9M1444 637.6L1444 897.9M1564.5 637.6L1564.5 897.9M1685 637.6L1685 897.9M1022.5 886.2L1685 886.2M1022.5 789L1685 789M1022.5 691.8L1685 691.8" fill="none" stroke="#b6b6b6" stroke-width="1.5"/>
<clipPath id="cd"><rect x="1022.5" y="637.6" width="662.5" height="260.3"/></clipPath><g clip-path="url(#cd)">
<path d="M1022.5 886.2 L1260 886.4 L1264.1 886.4 L1268.4 886.3 L1272.8 886.3 L1277.1 886.3 L1281.3 886.2 L1285.2 886.2 L1288.7 886.1 L1291.6 885.9 L1294 885.7 L1295.9 885.5 L1297.3 885.3 L1298.5 885 L1299.5 884.7 L1300.3 884.3 L1301.2 883.8 L1302.2 883.3 L1303.2 882.6 L1304.2 881.8 L1305.1 880.9 L1305.9 880 L1306.7 878.9 L1307.4 877.8 L1308.1 876.6 L1308.8 875.3 L1309.4 874 L1310 872.7 L1310.5 871.2 L1310.9 869.7 L1311.4 868.1 L1311.8 866.3 L1312.3 864.3 L1312.7 862.2 L1313.2 859.8 L1313.7 857.3 L1314.2 854.6 L1314.7 851.8 L1315.2 848.8 L1315.7 845.5 L1316.2 842.1 L1316.7 838.4 L1317.2 834.5 L1317.7 830.3 L1318.2 825.9 L1318.7 821.3 L1319.2 816.5 L1319.7 811.6 L1320.2 806.6 L1320.7 801.5 L1321.1 796.3 L1321.6 790.9 L1322.1 785.3 L1322.6 779.6 L1323.1 773.8 L1323.6 768.1 L1324.1 762.3 L1324.6 756.7 L1325.1 751 L1325.6 745.2 L1326.1 739.4 L1326.6 733.6 L1327.1 727.9 L1327.6 722.3 L1328.1 716.9 L1328.6 711.8 L1329 707 L1329.4 702.2 L1329.8 697.6 L1330.2 693.2 L1330.6 689 L1331 685 L1331.4 681.1 L1331.7 677.6 L1332.1 674.2 L1332.4 671 L1332.8 668.1 L1333.1 665.4 L1333.4 662.8 L1333.7 660.5 L1334 658.4 L1334.4 656.5 L1334.7 654.7 L1335 653.2 L1335.4 651.9 L1335.7 650.8 L1336 649.9 L1336.3 649.2 L1336.7 648.8 L1337 648.5 L1337.3 648.6 L1337.7 648.9 L1338 649.5 L1338.3 650.3 L1338.7 651.3 L1339 652.4 L1339.3 653.7 L1339.6 655.1 L1340 656.7 L1340.3 658.4 L1340.6 660.3 L1340.9 662.3 L1341.2 664.5 L1341.6 666.9 L1341.9 669.5 L1342.3 672.3 L1342.7 675.3 L1343.1 678.5 L1343.5 681.9 L1343.9 685.6 L1344.3 689.3 L1344.8 693.2 L1345.2 697.2 L1345.7 701.3 L1346.2 705.5 L1346.6 709.7 L1347.1 714.1 L1347.6 718.6 L1348.1 723.2 L1348.6 728.1 L1349.1 733 L1349.7 738.2 L1350.3 743.7 L1350.9 749.6 L1351.5 755.7 L1352.2 761.9 L1352.9 768.2 L1353.6 774.3 L1354.3 780.2 L1354.9 785.7 L1355.6 790.9 L1356.3 796 L1356.9 800.9 L1357.6 805.6 L1358.2 810.2 L1358.9 814.5 L1359.6 818.7 L1360.2 822.6 L1360.9 826.3 L1361.5 829.6 L1362.2 832.8 L1362.8 835.8 L1363.5 838.6 L1364.2 841.3 L1364.8 843.8 L1365.5 846.3 L1366.1 848.7 L1366.8 850.9 L1367.4 853 L1368 855 L1368.7 856.9 L1369.3 858.7 L1370 860.4 L1370.8 862.2 L1371.5 863.9 L1372.3 865.5 L1373 867.1 L1373.8 868.7 L1374.6 870.1 L1375.5 871.5 L1376.4 872.8 L1377.4 874 L1378.4 875.1 L1379.4 876.1 L1380.6 877 L1381.7 877.8 L1382.9 878.6 L1384.1 879.3 L1385.3 880 L1386.6 880.6 L1387.8 881.2 L1389 881.7 L1390.2 882.2 L1391.4 882.6 L1392.7 883 L1394.1 883.4 L1395.6 883.7 L1397.1 884 L1398.7 884.4 L1400.3 884.6 L1402 884.9 L1403.7 885.1 L1405.6 885.4 L1407.8 885.6 L1410.2 885.7 L1413 885.9 L1416 886 L1419.2 886.1 L1422.6 886.2 L1426.3 886.3 L1430.3 886.3 L1434.6 886.4 L1439.4 886.4 L1444.6 886.4 L1450.4 886.4 L1456.8 886.5 L1463.6 886.5 L1470.8 886.5 L1478.2 886.4 L1485.6 886.4 L1492.9 886.4 L1500 886.4 L1685 886.2" fill="none" stroke="#ff1616" stroke-width="2.7"/>
<path d="M1022.5 886.2 L1260 886.4 L1265.1 886.4 L1270.6 886.4 L1276.1 886.4 L1281.6 886.5 L1286.8 886.4 L1291.7 886.4 L1296 886.2 L1299.6 885.9 L1302.3 885.5 L1304.3 885.2 L1305.8 884.8 L1306.9 884.4 L1307.7 883.8 L1308.4 883 L1309.2 881.9 L1310.1 880.6 L1311.1 879 L1312.1 877.2 L1312.9 875.1 L1313.7 872.9 L1314.5 870.4 L1315.2 867.8 L1316 865.1 L1316.7 862.2 L1317.4 859.1 L1318.1 855.7 L1318.8 852.2 L1319.5 848.5 L1320.1 844.7 L1320.8 840.8 L1321.4 837 L1322 833.1 L1322.5 829.4 L1323.1 825.6 L1323.6 821.8 L1324 818 L1324.5 814.1 L1325 810 L1325.4 805.9 L1325.9 801.5 L1326.4 797 L1326.9 792.2 L1327.4 787.4 L1327.9 782.4 L1328.4 777.3 L1328.9 772.2 L1329.4 767.1 L1329.9 761.9 L1330.4 756.7 L1330.9 751.3 L1331.4 745.9 L1331.9 740.4 L1332.4 734.9 L1332.9 729.6 L1333.3 724.5 L1333.8 719.8 L1334.3 715.1 L1334.8 710.6 L1335.3 706.2 L1335.9 702 L1336.4 698 L1336.8 694.3 L1337.3 691 L1337.8 688.1 L1338.3 685.6 L1338.7 683.5 L1339.2 681.7 L1339.6 680.3 L1340 679.1 L1340.4 678.3 L1340.8 677.8 L1341.2 677.6 L1341.6 677.7 L1341.9 678.2 L1342.2 679.1 L1342.6 680.3 L1342.9 681.7 L1343.2 683.3 L1343.5 685 L1343.9 686.8 L1344.2 688.6 L1344.6 690.6 L1345 692.7 L1345.4 694.9 L1345.8 697.4 L1346.2 700.2 L1346.6 703.2 L1347 706.6 L1347.5 710.3 L1347.9 714.3 L1348.4 718.7 L1348.9 723.3 L1349.4 728.1 L1349.9 733.1 L1350.4 738.2 L1351 743.5 L1351.6 749 L1352.2 754.9 L1352.9 761 L1353.5 767.2 L1354.2 773.5 L1354.9 779.6 L1355.6 785.5 L1356.3 791 L1356.9 796.2 L1357.6 801.2 L1358.2 806.2 L1358.9 810.9 L1359.6 815.5 L1360.2 819.8 L1360.9 824 L1361.5 827.9 L1362.2 831.5 L1362.8 835 L1363.5 838.1 L1364.2 841.1 L1364.8 844 L1365.5 846.6 L1366.1 849.2 L1366.8 851.6 L1367.5 853.9 L1368.1 856 L1368.7 858 L1369.4 859.8 L1370 861.5 L1370.7 863.1 L1371.4 864.6 L1372.1 866.1 L1372.8 867.5 L1373.5 868.9 L1374.3 870.1 L1375 871.2 L1375.9 872.3 L1376.7 873.3 L1377.6 874.4 L1378.7 875.3 L1379.8 876.3 L1381 877.2 L1382.2 878.1 L1383.5 879 L1384.9 879.8 L1386.3 880.6 L1387.7 881.3 L1389.2 881.9 L1390.7 882.5 L1392.1 883.1 L1393.6 883.6 L1395.2 884 L1396.8 884.4 L1398.5 884.7 L1400.4 885.1 L1402.4 885.4 L1404.3 885.6 L1405.8 885.8 L1407.3 886 L1409 886.1 L1411.2 886.2 L1414.1 886.3 L1418.2 886.4 L1423.5 886.4 L1430.4 886.5 L1438.7 886.5 L1448.1 886.5 L1458.3 886.5 L1468.9 886.5 L1479.6 886.4 L1490 886.4 L1500 886.4 L1685 886.2" fill="none" stroke="#ff1616" stroke-width="2.7" stroke-dasharray="10.4 4.5"/>
<path d="M1022.5 886.2 L1260 886.4 L1265.1 886.4 L1270.6 886.5 L1276.1 886.6 L1281.6 886.6 L1286.8 886.6 L1291.7 886.6 L1296 886.6 L1299.6 886.4 L1302.3 886.2 L1304.3 886 L1305.8 885.7 L1306.8 885.4 L1307.6 885 L1308.3 884.5 L1309.1 884 L1310.1 883.3 L1311.2 882.4 L1312.3 881.4 L1313.3 880.3 L1314.2 879.1 L1315.2 877.8 L1316.1 876.6 L1317 875.3 L1318 874 L1319 872.7 L1320 871.3 L1321 869.9 L1322.1 868.5 L1323.1 867 L1324 865.7 L1325 864.5 L1325.9 863.5 L1326.8 862.6 L1327.7 861.8 L1328.6 861.2 L1329.4 860.6 L1330.2 860.1 L1331 859.7 L1331.8 859.3 L1332.5 859 L1333.2 858.7 L1333.9 858.4 L1334.6 858.2 L1335.2 858.1 L1335.9 858 L1336.5 858 L1337.1 858 L1337.8 858.2 L1338.5 858.4 L1339.1 858.7 L1339.8 859.1 L1340.4 859.6 L1341.1 860.1 L1341.8 860.7 L1342.4 861.4 L1343.1 862.2 L1343.7 863.1 L1344.4 864.1 L1345 865.2 L1345.7 866.4 L1346.4 867.7 L1347 869 L1347.7 870.2 L1348.3 871.4 L1349 872.6 L1349.7 873.8 L1350.3 875 L1351 876.3 L1351.6 877.5 L1352.3 878.6 L1353 879.7 L1353.6 880.6 L1354.3 881.4 L1354.9 882.2 L1355.5 882.9 L1356.2 883.5 L1356.8 884.1 L1357.5 884.5 L1358.2 885 L1358.9 885.4 L1358.8 885.7 L1357.5 885.9 L1355.6 886.1 L1354.1 886.2 L1353.6 886.3 L1354.8 886.3 L1358.5 886.4 L1365.5 886.4 L1376.2 886.5 L1390.1 886.5 L1406.6 886.5 L1424.7 886.5 L1443.9 886.5 L1463.4 886.4 L1482.3 886.4 L1500 886.4 L1685 886.2" fill="none" stroke="#ff1616" stroke-width="2.7" stroke-dasharray="17.9 4.5 2.8 4.5"/>
<path d="M1022.2 886.2 L1023.5 886.2 L1024.9 886.2 L1026.2 886.2 L1027.5 886.2 L1028.8 886.2 L1030.2 886.2 L1031.5 886.2 L1032.8 886.2 L1034.2 886.2 L1035.5 886.2 L1036.8 886.2 L1038.1 886.2 L1039.5 886.2 L1040.8 886.2 L1042.1 886.2 L1043.5 886.2 L1044.8 886.2 L1046.1 886.2 L1047.4 886.2 L1048.8 886.2 L1050.1 886.2 L1051.4 886.2 L1052.7 886.2 L1054.1 886.2 L1055.4 886.2 L1056.7 886.2 L1058.1 886.2 L1059.4 886.2 L1060.7 886.2 L1062 886.2 L1063.4 886.2 L1064.7 886.2 L1066 886.2 L1067.4 886.2 L1068.7 886.2 L1070 886.2 L1071.3 886.2 L1072.7 886.2 L1074 886.2 L1075.3 886.2 L1076.7 886.2 L1078 886.2 L1079.3 886.2 L1080.6 886.2 L1082 886.2 L1083.3 886.2 L1084.6 886.2 L1086 886.2 L1087.3 886.2 L1088.6 886.2 L1089.9 886.2 L1091.3 886.2 L1092.6 886.2 L1093.9 886.2 L1095.2 886.2 L1096.6 886.2 L1097.9 886.2 L1099.2 886.2 L1100.6 886.2 L1101.9 886.2 L1103.2 886.2 L1104.5 886.2 L1105.9 886.2 L1107.2 886.2 L1108.5 886.2 L1109.9 886.2 L1111.2 886.2 L1112.5 886.2 L1113.8 886.2 L1115.2 886.2 L1116.5 886.2 L1117.8 886.2 L1119.2 886.2 L1120.5 886.2 L1121.8 886.2 L1123.1 886.2 L1124.5 886.2 L1125.8 886.2 L1127.1 886.2 L1128.5 886.2 L1129.8 886.2 L1131.1 886.2 L1132.4 886.2 L1133.8 886.2 L1135.1 886.2 L1136.4 886.2 L1137.7 886.2 L1139.1 886.2 L1140.4 886.2 L1141.7 886.2 L1143.1 886.2 L1144.4 886.2 L1145.7 886.2 L1147 886.2 L1148.4 886.2 L1149.7 886.2 L1151 886.2 L1152.4 886.2 L1153.7 886.2 L1155 886.2 L1156.3 886.2 L1157.7 886.2 L1159 886.2 L1160.3 886.2 L1161.7 886.2 L1163 886.2 L1164.3 886.2 L1165.6 886.2 L1167 886.2 L1168.3 886.2 L1169.6 886.2 L1171 886.2 L1172.3 886.2 L1173.6 886.2 L1174.9 886.2 L1176.3 886.2 L1177.6 886.2 L1178.9 886.2 L1180.3 886.2 L1181.6 886.2 L1182.9 886.2 L1184.2 886.2 L1185.6 886.2 L1186.9 886.2 L1188.2 886.2 L1189.5 886.2 L1190.9 886.2 L1192.2 886.2 L1193.5 886.2 L1194.9 886.2 L1196.2 886.2 L1197.5 886.2 L1198.8 886.2 L1200.2 886.2 L1201.5 886.2 L1202.8 886.2 L1204.2 886.2 L1205.5 886.2 L1206.8 886.2 L1208.1 886.2 L1209.5 886.2 L1210.8 886.2 L1212.1 886.2 L1213.5 886.2 L1214.8 886.2 L1216.1 886.2 L1217.4 886.2 L1218.8 886.2 L1220.1 886.2 L1221.4 886.2 L1222.8 886.2 L1224.1 886.2 L1225.4 886.2 L1226.7 886.2 L1228.1 886.2 L1229.4 886.2 L1230.7 886.2 L1232 886.2 L1233.4 886.2 L1234.7 886.2 L1236 886.2 L1237.4 886.2 L1238.7 886.2 L1240 886.2 L1241.3 886.2 L1242.7 886.2 L1244 886.2 L1245.3 886.2 L1246.7 886.2 L1248 886.2 L1249.3 886.2 L1250.6 886.2 L1252 886.2 L1253.3 886.2 L1254.6 886.2 L1256 886.2 L1257.3 886.2 L1258.6 886.2 L1259.9 886.2 L1261.3 886.2 L1262.6 886.2 L1263.9 886.2 L1265.3 886.2 L1266.6 886.2 L1267.9 886.2 L1269.2 886.2 L1270.6 886.2 L1271.9 886.2 L1273.2 886.2 L1274.5 886.2 L1275.9 886.2 L1277.2 886.2 L1278.5 886.2 L1279.9 886.2 L1281.2 886.2 L1282.5 886.2 L1283.8 886.2 L1285.2 886.2 L1286.5 886.2 L1287.8 886.2 L1289.2 886.2 L1290.5 886.2 L1291.8 886.2 L1293.1 886.2 L1294.5 886.2 L1295.8 886.1 L1297.1 886.1 L1298.5 886.1 L1299.8 886 L1301.1 885.9 L1302.4 885.8 L1303.8 885.6 L1305.1 885.5 L1306.4 885.2 L1307.8 884.9 L1309.1 884.5 L1310.4 884.1 L1311.7 883.6 L1313.1 883 L1314.4 882.3 L1315.7 881.6 L1317.1 880.9 L1318.4 880.1 L1319.7 879.4 L1321 878.6 L1322.4 878 L1323.7 877.4 L1325 877 L1326.3 876.7 L1327.7 876.5 L1329 876.5 L1330.3 876.7 L1331.7 877 L1333 877.5 L1334.3 878 L1335.6 878.7 L1337 879.4 L1338.3 880.2 L1339.6 881 L1341 881.7 L1342.3 882.4 L1343.6 883 L1344.9 883.6 L1346.3 884.1 L1347.6 884.6 L1348.9 884.9 L1350.3 885.2 L1351.6 885.5 L1352.9 885.7 L1354.2 885.8 L1355.6 885.9 L1356.9 886 L1358.2 886.1 L1359.6 886.1 L1360.9 886.1 L1362.2 886.2 L1363.5 886.2 L1364.9 886.2 L1366.2 886.2 L1367.5 886.2 L1368.8 886.2 L1370.2 886.2 L1371.5 886.2 L1372.8 886.2 L1374.2 886.2 L1375.5 886.2 L1376.8 886.2 L1378.1 886.2 L1379.5 886.2 L1380.8 886.2 L1382.1 886.2 L1383.5 886.2 L1384.8 886.2 L1386.1 886.2 L1387.4 886.2 L1388.8 886.2 L1390.1 886.2 L1391.4 886.2 L1392.8 886.2 L1394.1 886.2 L1395.4 886.2 L1396.7 886.2 L1398.1 886.2 L1399.4 886.2 L1400.7 886.2 L1402.1 886.2 L1403.4 886.2 L1404.7 886.2 L1406 886.2 L1407.4 886.2 L1408.7 886.2 L1410 886.2 L1411.3 886.2 L1412.7 886.2 L1414 886.2 L1415.3 886.2 L1416.7 886.2 L1418 886.2 L1419.3 886.2 L1420.6 886.2 L1422 886.2 L1423.3 886.2 L1424.6 886.2 L1426 886.2 L1427.3 886.2 L1428.6 886.2 L1429.9 886.2 L1431.3 886.2 L1432.6 886.2 L1433.9 886.2 L1435.3 886.2 L1436.6 886.2 L1437.9 886.2 L1439.2 886.2 L1440.6 886.2 L1441.9 886.2 L1443.2 886.2 L1444.6 886.2 L1445.9 886.2 L1447.2 886.2 L1448.5 886.2 L1449.9 886.2 L1451.2 886.2 L1452.5 886.2 L1453.9 886.2 L1455.2 886.2 L1456.5 886.2 L1457.8 886.2 L1459.2 886.2 L1460.5 886.2 L1461.8 886.2 L1463.1 886.2 L1464.5 886.2 L1465.8 886.2 L1467.1 886.2 L1468.5 886.2 L1469.8 886.2 L1471.1 886.2 L1472.4 886.2 L1473.8 886.2 L1475.1 886.2 L1476.4 886.2 L1477.8 886.2 L1479.1 886.2 L1480.4 886.2 L1481.7 886.2 L1483.1 886.2 L1484.4 886.2 L1485.7 886.2 L1487.1 886.2 L1488.4 886.2 L1489.7 886.2 L1491 886.2 L1492.4 886.2 L1493.7 886.2 L1495 886.2 L1496.4 886.2 L1497.7 886.2 L1499 886.2 L1500.3 886.2 L1501.7 886.2 L1503 886.2 L1504.3 886.2 L1505.6 886.2 L1507 886.2 L1508.3 886.2 L1509.6 886.2 L1511 886.2 L1512.3 886.2 L1513.6 886.2 L1514.9 886.2 L1516.3 886.2 L1517.6 886.2 L1518.9 886.2 L1520.3 886.2 L1521.6 886.2 L1522.9 886.2 L1524.2 886.2 L1525.6 886.2 L1526.9 886.2 L1528.2 886.2 L1529.6 886.2 L1530.9 886.2 L1532.2 886.2 L1533.5 886.2 L1534.9 886.2 L1536.2 886.2 L1537.5 886.2 L1538.9 886.2 L1540.2 886.2 L1541.5 886.2 L1542.8 886.2 L1544.2 886.2 L1545.5 886.2 L1546.8 886.2 L1548.1 886.2 L1549.5 886.2 L1550.8 886.2 L1552.1 886.2 L1553.5 886.2 L1554.8 886.2 L1556.1 886.2 L1557.4 886.2 L1558.8 886.2 L1560.1 886.2 L1561.4 886.2 L1562.8 886.2 L1564.1 886.2 L1565.4 886.2 L1566.7 886.2 L1568.1 886.2 L1569.4 886.2 L1570.7 886.2 L1572.1 886.2 L1573.4 886.2 L1574.7 886.2 L1576 886.2 L1577.4 886.2 L1578.7 886.2 L1580 886.2 L1581.4 886.2 L1582.7 886.2 L1584 886.2 L1585.3 886.2 L1586.7 886.2 L1588 886.2 L1589.3 886.2 L1590.7 886.2 L1592 886.2 L1593.3 886.2 L1594.6 886.2 L1596 886.2 L1597.3 886.2 L1598.6 886.2 L1599.9 886.2 L1601.3 886.2 L1602.6 886.2 L1603.9 886.2 L1605.3 886.2 L1606.6 886.2 L1607.9 886.2 L1609.2 886.2 L1610.6 886.2 L1611.9 886.2 L1613.2 886.2 L1614.6 886.2 L1615.9 886.2 L1617.2 886.2 L1618.5 886.2 L1619.9 886.2 L1621.2 886.2 L1622.5 886.2 L1623.9 886.2 L1625.2 886.2 L1626.5 886.2 L1627.8 886.2 L1629.2 886.2 L1630.5 886.2 L1631.8 886.2 L1633.2 886.2 L1634.5 886.2 L1635.8 886.2 L1637.1 886.2 L1638.5 886.2 L1639.8 886.2 L1641.1 886.2 L1642.4 886.2 L1643.8 886.2 L1645.1 886.2 L1646.4 886.2 L1647.8 886.2 L1649.1 886.2 L1650.4 886.2 L1651.7 886.2 L1653.1 886.2 L1654.4 886.2 L1655.7 886.2 L1657.1 886.2 L1658.4 886.2 L1659.7 886.2 L1661 886.2 L1662.4 886.2 L1663.7 886.2 L1665 886.2 L1666.4 886.2 L1667.7 886.2 L1669 886.2 L1670.3 886.2 L1671.7 886.2 L1673 886.2 L1674.3 886.2 L1675.7 886.2 L1677 886.2 L1678.3 886.2 L1679.6 886.2 L1681 886.2 L1682.3 886.2 L1683.6 886.2 L1685 886.2" fill="none" stroke="#111" stroke-width="2.7" stroke-dasharray="2.8 4.6"/>
<path d="M1022.2 886.2 L1023.5 886.2 L1024.9 886.2 L1026.2 886.2 L1027.5 886.2 L1028.8 886.2 L1030.2 886.2 L1031.5 886.2 L1032.8 886.2 L1034.2 886.2 L1035.5 886.2 L1036.8 886.2 L1038.1 886.2 L1039.5 886.2 L1040.8 886.2 L1042.1 886.2 L1043.5 886.2 L1044.8 886.2 L1046.1 886.2 L1047.4 886.2 L1048.8 886.2 L1050.1 886.2 L1051.4 886.2 L1052.7 886.2 L1054.1 886.2 L1055.4 886.2 L1056.7 886.2 L1058.1 886.2 L1059.4 886.2 L1060.7 886.2 L1062 886.2 L1063.4 886.2 L1064.7 886.2 L1066 886.2 L1067.4 886.2 L1068.7 886.2 L1070 886.2 L1071.3 886.2 L1072.7 886.2 L1074 886.2 L1075.3 886.2 L1076.7 886.2 L1078 886.2 L1079.3 886.2 L1080.6 886.2 L1082 886.2 L1083.3 886.2 L1084.6 886.2 L1086 886.2 L1087.3 886.2 L1088.6 886.2 L1089.9 886.2 L1091.3 886.2 L1092.6 886.2 L1093.9 886.2 L1095.2 886.2 L1096.6 886.2 L1097.9 886.2 L1099.2 886.2 L1100.6 886.2 L1101.9 886.2 L1103.2 886.2 L1104.5 886.2 L1105.9 886.2 L1107.2 886.2 L1108.5 886.2 L1109.9 886.2 L1111.2 886.2 L1112.5 886.2 L1113.8 886.2 L1115.2 886.2 L1116.5 886.2 L1117.8 886.2 L1119.2 886.2 L1120.5 886.2 L1121.8 886.2 L1123.1 886.2 L1124.5 886.2 L1125.8 886.2 L1127.1 886.2 L1128.5 886.2 L1129.8 886.2 L1131.1 886.2 L1132.4 886.2 L1133.8 886.2 L1135.1 886.2 L1136.4 886.2 L1137.7 886.2 L1139.1 886.2 L1140.4 886.2 L1141.7 886.2 L1143.1 886.2 L1144.4 886.2 L1145.7 886.2 L1147 886.2 L1148.4 886.2 L1149.7 886.2 L1151 886.2 L1152.4 886.2 L1153.7 886.2 L1155 886.2 L1156.3 886.2 L1157.7 886.2 L1159 886.2 L1160.3 886.2 L1161.7 886.2 L1163 886.2 L1164.3 886.2 L1165.6 886.2 L1167 886.2 L1168.3 886.2 L1169.6 886.2 L1171 886.2 L1172.3 886.2 L1173.6 886.2 L1174.9 886.2 L1176.3 886.2 L1177.6 886.2 L1178.9 886.2 L1180.3 886.2 L1181.6 886.2 L1182.9 886.2 L1184.2 886.2 L1185.6 886.2 L1186.9 886.2 L1188.2 886.2 L1189.5 886.2 L1190.9 886.2 L1192.2 886.2 L1193.5 886.2 L1194.9 886.2 L1196.2 886.2 L1197.5 886.2 L1198.8 886.2 L1200.2 886.2 L1201.5 886.2 L1202.8 886.2 L1204.2 886.2 L1205.5 886.2 L1206.8 886.2 L1208.1 886.2 L1209.5 886.2 L1210.8 886.2 L1212.1 886.2 L1213.5 886.2 L1214.8 886.2 L1216.1 886.2 L1217.4 886.2 L1218.8 886.2 L1220.1 886.2 L1221.4 886.2 L1222.8 886.2 L1224.1 886.2 L1225.4 886.2 L1226.7 886.2 L1228.1 886.2 L1229.4 886.2 L1230.7 886.2 L1232 886.2 L1233.4 886.2 L1234.7 886.2 L1236 886.2 L1237.4 886.2 L1238.7 886.2 L1240 886.2 L1241.3 886.2 L1242.7 886.2 L1244 886.2 L1245.3 886.2 L1246.7 886.2 L1248 886.2 L1249.3 886.2 L1250.6 886.2 L1252 886.2 L1253.3 886.2 L1254.6 886.2 L1256 886.2 L1257.3 886.2 L1258.6 886.2 L1259.9 886.2 L1261.3 886.2 L1262.6 886.2 L1263.9 886.2 L1265.3 886.2 L1266.6 886.2 L1267.9 886.2 L1269.2 886.2 L1270.6 886.2 L1271.9 886.2 L1273.2 886.2 L1274.5 886.2 L1275.9 886.2 L1277.2 886.2 L1278.5 886.2 L1279.9 886.2 L1281.2 886.2 L1282.5 886.2 L1283.8 886.2 L1285.2 886.2 L1286.5 886.2 L1287.8 886.2 L1289.2 886.2 L1290.5 886.1 L1291.8 886.1 L1293.1 886 L1294.5 885.9 L1295.8 885.7 L1297.1 885.4 L1298.5 884.9 L1299.8 884.3 L1301.1 883.4 L1302.4 882.2 L1303.8 880.5 L1305.1 878.4 L1306.4 875.8 L1307.8 872.5 L1309.1 868.6 L1310.4 864.2 L1311.7 859.1 L1313.1 853.7 L1314.4 848 L1315.7 842.3 L1317.1 836.8 L1318.4 831.9 L1319.7 827.8 L1321 824.7 L1322.4 822.9 L1323.7 822.5 L1325 823.4 L1326.3 825.7 L1327.7 829.2 L1329 833.6 L1330.3 838.8 L1331.7 844.4 L1333 850.1 L1334.3 855.7 L1335.6 861 L1337 865.9 L1338.3 870.1 L1339.6 873.8 L1341 876.8 L1342.3 879.2 L1343.6 881.2 L1344.9 882.6 L1346.3 883.7 L1347.6 884.5 L1348.9 885.1 L1350.3 885.5 L1351.6 885.7 L1352.9 885.9 L1354.2 886 L1355.6 886.1 L1356.9 886.1 L1358.2 886.2 L1359.6 886.2 L1360.9 886.2 L1362.2 886.2 L1363.5 886.2 L1364.9 886.2 L1366.2 886.2 L1367.5 886.2 L1368.8 886.2 L1370.2 886.2 L1371.5 886.2 L1372.8 886.2 L1374.2 886.2 L1375.5 886.2 L1376.8 886.2 L1378.1 886.2 L1379.5 886.2 L1380.8 886.2 L1382.1 886.2 L1383.5 886.2 L1384.8 886.2 L1386.1 886.2 L1387.4 886.2 L1388.8 886.2 L1390.1 886.2 L1391.4 886.2 L1392.8 886.2 L1394.1 886.2 L1395.4 886.2 L1396.7 886.2 L1398.1 886.2 L1399.4 886.2 L1400.7 886.2 L1402.1 886.2 L1403.4 886.2 L1404.7 886.2 L1406 886.2 L1407.4 886.2 L1408.7 886.2 L1410 886.2 L1411.3 886.2 L1412.7 886.2 L1414 886.2 L1415.3 886.2 L1416.7 886.2 L1418 886.2 L1419.3 886.2 L1420.6 886.2 L1422 886.2 L1423.3 886.2 L1424.6 886.2 L1426 886.2 L1427.3 886.2 L1428.6 886.2 L1429.9 886.2 L1431.3 886.2 L1432.6 886.2 L1433.9 886.2 L1435.3 886.2 L1436.6 886.2 L1437.9 886.2 L1439.2 886.2 L1440.6 886.2 L1441.9 886.2 L1443.2 886.2 L1444.6 886.2 L1445.9 886.2 L1447.2 886.2 L1448.5 886.2 L1449.9 886.2 L1451.2 886.2 L1452.5 886.2 L1453.9 886.2 L1455.2 886.2 L1456.5 886.2 L1457.8 886.2 L1459.2 886.2 L1460.5 886.2 L1461.8 886.2 L1463.1 886.2 L1464.5 886.2 L1465.8 886.2 L1467.1 886.2 L1468.5 886.2 L1469.8 886.2 L1471.1 886.2 L1472.4 886.2 L1473.8 886.2 L1475.1 886.2 L1476.4 886.2 L1477.8 886.2 L1479.1 886.2 L1480.4 886.2 L1481.7 886.2 L1483.1 886.2 L1484.4 886.2 L1485.7 886.2 L1487.1 886.2 L1488.4 886.2 L1489.7 886.2 L1491 886.2 L1492.4 886.2 L1493.7 886.2 L1495 886.2 L1496.4 886.2 L1497.7 886.2 L1499 886.2 L1500.3 886.2 L1501.7 886.2 L1503 886.2 L1504.3 886.2 L1505.6 886.2 L1507 886.2 L1508.3 886.2 L1509.6 886.2 L1511 886.2 L1512.3 886.2 L1513.6 886.2 L1514.9 886.2 L1516.3 886.2 L1517.6 886.2 L1518.9 886.2 L1520.3 886.2 L1521.6 886.2 L1522.9 886.2 L1524.2 886.2 L1525.6 886.2 L1526.9 886.2 L1528.2 886.2 L1529.6 886.2 L1530.9 886.2 L1532.2 886.2 L1533.5 886.2 L1534.9 886.2 L1536.2 886.2 L1537.5 886.2 L1538.9 886.2 L1540.2 886.2 L1541.5 886.2 L1542.8 886.2 L1544.2 886.2 L1545.5 886.2 L1546.8 886.2 L1548.1 886.2 L1549.5 886.2 L1550.8 886.2 L1552.1 886.2 L1553.5 886.2 L1554.8 886.2 L1556.1 886.2 L1557.4 886.2 L1558.8 886.2 L1560.1 886.2 L1561.4 886.2 L1562.8 886.2 L1564.1 886.2 L1565.4 886.2 L1566.7 886.2 L1568.1 886.2 L1569.4 886.2 L1570.7 886.2 L1572.1 886.2 L1573.4 886.2 L1574.7 886.2 L1576 886.2 L1577.4 886.2 L1578.7 886.2 L1580 886.2 L1581.4 886.2 L1582.7 886.2 L1584 886.2 L1585.3 886.2 L1586.7 886.2 L1588 886.2 L1589.3 886.2 L1590.7 886.2 L1592 886.2 L1593.3 886.2 L1594.6 886.2 L1596 886.2 L1597.3 886.2 L1598.6 886.2 L1599.9 886.2 L1601.3 886.2 L1602.6 886.2 L1603.9 886.2 L1605.3 886.2 L1606.6 886.2 L1607.9 886.2 L1609.2 886.2 L1610.6 886.2 L1611.9 886.2 L1613.2 886.2 L1614.6 886.2 L1615.9 886.2 L1617.2 886.2 L1618.5 886.2 L1619.9 886.2 L1621.2 886.2 L1622.5 886.2 L1623.9 886.2 L1625.2 886.2 L1626.5 886.2 L1627.8 886.2 L1629.2 886.2 L1630.5 886.2 L1631.8 886.2 L1633.2 886.2 L1634.5 886.2 L1635.8 886.2 L1637.1 886.2 L1638.5 886.2 L1639.8 886.2 L1641.1 886.2 L1642.4 886.2 L1643.8 886.2 L1645.1 886.2 L1646.4 886.2 L1647.8 886.2 L1649.1 886.2 L1650.4 886.2 L1651.7 886.2 L1653.1 886.2 L1654.4 886.2 L1655.7 886.2 L1657.1 886.2 L1658.4 886.2 L1659.7 886.2 L1661 886.2 L1662.4 886.2 L1663.7 886.2 L1665 886.2 L1666.4 886.2 L1667.7 886.2 L1669 886.2 L1670.3 886.2 L1671.7 886.2 L1673 886.2 L1674.3 886.2 L1675.7 886.2 L1677 886.2 L1678.3 886.2 L1679.6 886.2 L1681 886.2 L1682.3 886.2 L1683.6 886.2 L1685 886.2" fill="none" stroke="#111" stroke-width="3.3" stroke-dasharray="13.8 14.4"/>
</g>
<path d="M1082.5 897.9L1082.5 904.9M1203 897.9L1203 904.9M1323.5 897.9L1323.5 904.9M1444 897.9L1444 904.9M1564.5 897.9L1564.5 904.9M1685 897.9L1685 904.9M1022.5 886.2L1015.5 886.2M1022.5 789L1015.5 789M1022.5 691.8L1015.5 691.8" fill="none" stroke="#333" stroke-width="1.8"/>
<rect x="1022.5" y="637.6" width="662.5" height="260.3" fill="none" stroke="#4a4a4a" stroke-width="2.3"/>
<text x="1082.5" y="926" font-size="21.5" text-anchor="middle" fill="#000">0.6</text>
<text x="1203" y="926" font-size="21.5" text-anchor="middle" fill="#000">0.8</text>
<text x="1323.5" y="926" font-size="21.5" text-anchor="middle" fill="#000">1.0</text>
<text x="1444" y="926" font-size="21.5" text-anchor="middle" fill="#000">1.2</text>
<text x="1564.5" y="926" font-size="21.5" text-anchor="middle" fill="#000">1.4</text>
<text x="1685" y="926" font-size="21.5" text-anchor="middle" fill="#000">1.6</text>
<text x="1009.5" y="893.4" font-size="21.5" text-anchor="end" fill="#000">0.0</text>
<text x="1009.5" y="796.2" font-size="21.5" text-anchor="end" fill="#000">0.5</text>
<text x="1009.5" y="699" font-size="21.5" text-anchor="end" fill="#000">1.0</text>
<text x="1353" y="954.4" font-size="21.5" text-anchor="middle" fill="#000">Time [ns]</text>
<text x="967" y="767.6" font-size="21.5" text-anchor="middle" fill="#000" transform="rotate(-90 967 767.6)">S [-]</text>
<text x="1022.5" y="631.1" font-size="21.5">×10<tspan dy="-11.2" font-size="16.1">7</tspan></text>
<rect x="1487.5" y="648.7" width="185.5" height="171.8" rx="4" ry="4" fill="#fff" fill-opacity="0.8" stroke="#cfcfcf" stroke-width="1.4"/>
<path d="M1495.7 666.1L1543.3 666.1" stroke="#ff1616" stroke-width="2.7" fill="none"/>
<text x="1560.7" y="673.5" font-size="21.5" word-spacing="1.7">V<tspan dy="5.6" font-size="15">rb</tspan><tspan dy="-5.6"> = 0.0 V</tspan></text>
<path d="M1495.7 699.4L1543.3 699.4" stroke="#ff1616" stroke-width="2.7" fill="none" stroke-dasharray="10.4 4.5"/>
<text x="1560.7" y="706.8" font-size="21.5" word-spacing="1.7">V<tspan dy="5.6" font-size="15">rb</tspan><tspan dy="-5.6"> = 1.0 V</tspan></text>
<path d="M1495.7 732.5L1543.3 732.5" stroke="#ff1616" stroke-width="2.7" fill="none" stroke-dasharray="17.9 4.5 2.8 4.5"/>
<text x="1560.7" y="739.9" font-size="21.5" word-spacing="1.7">V<tspan dy="5.6" font-size="15">rb</tspan><tspan dy="-5.6"> = 2.0 V</tspan></text>
<path d="M1495.7 765.5L1543.3 765.5" stroke="#111" stroke-width="2.7" fill="none" stroke-dasharray="2.8 4.6"/>
<text x="1560.7" y="772.9" font-size="21.5" word-spacing="1.7">V<tspan dy="5.6" font-size="15">rb</tspan><tspan dy="-5.6"> = 3.0 V</tspan></text>
<path d="M1495.7 798.8L1543.3 798.8" stroke="#111" stroke-width="3.3" fill="none" stroke-dasharray="13.8 14.4"/>
<text x="1560.7" y="806.2" font-size="21.5" text-anchor="start" fill="#000" letter-spacing="0.2">Injection</text>
<text x="1073.5" y="676.3" font-size="39.5" text-anchor="start" fill="#000" stroke-width="0.7">(d)</text>
</svg>
</body></html>
